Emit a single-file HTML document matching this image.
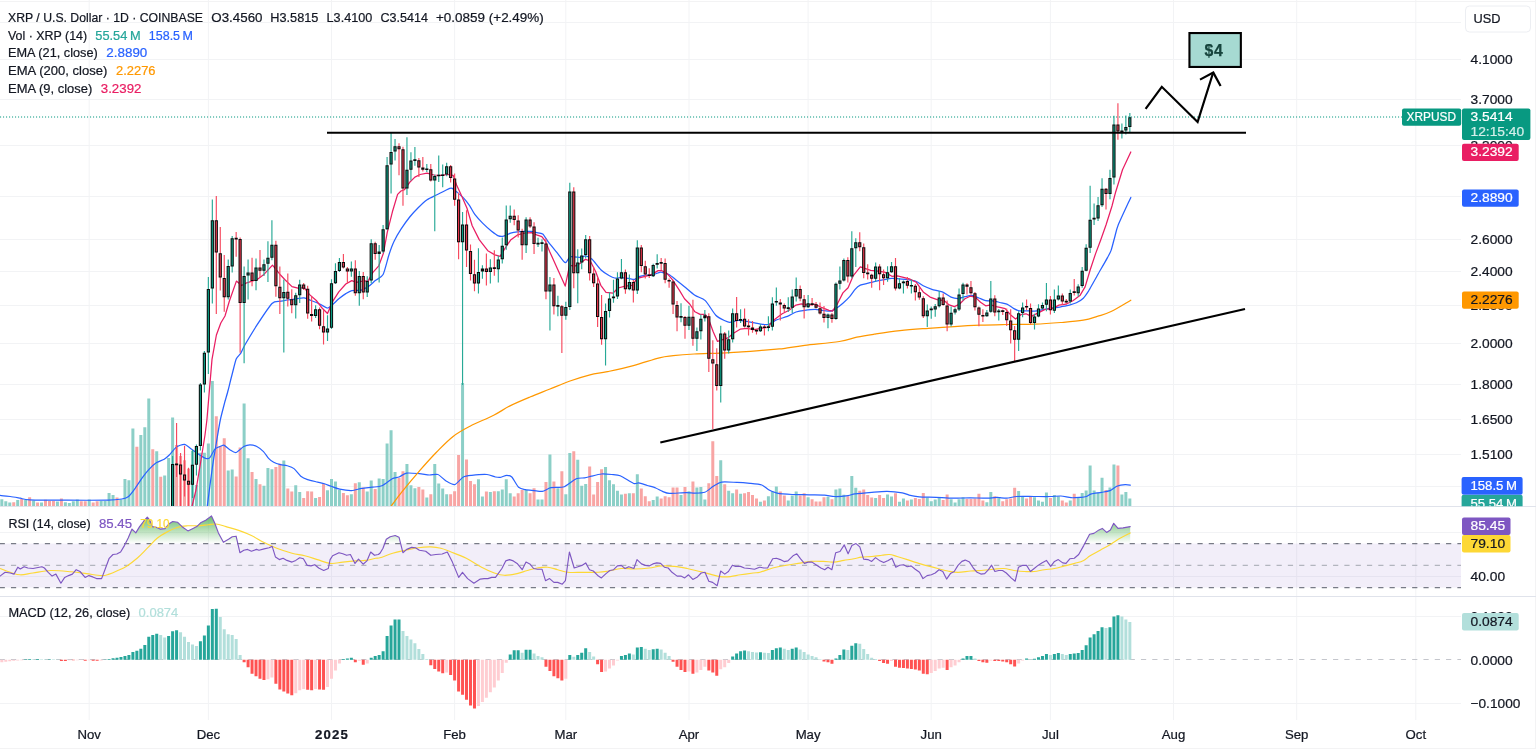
<!DOCTYPE html>
<html><head><meta charset="utf-8"><title>XRPUSD chart</title>
<style>
html,body{margin:0;padding:0;background:#fff;}
body{width:1536px;height:749px;overflow:hidden;font-family:"Liberation Sans",sans-serif;}
svg{display:block;font-family:"Liberation Sans",sans-serif;will-change:transform;}
</style></head>
<body>
<svg width="1536" height="749" viewBox="0 0 1536 749">
<rect width="1536" height="749" fill="#fff"/>
<path d="M89.2 0V720 M208.4 0V720 M331.5 0V720 M454.6 0V720 M565.8 0V720 M689.0 0V720 M808.1 0V720 M931.2 0V720 M1050.4 0V720 M1173.5 0V720 M1296.7 0V720 M1415.8 0V720 M0 22.5H1461 M0 59.5H1461 M0 99.5H1461 M0 145.5H1461 M0 196.5H1461 M0 239.5H1461 M0 271.5H1461 M0 305.5H1461 M0 343.5H1461 M0 384.5H1461 M0 419.5H1461 M0 454.5H1461 M0 486.5H1461 M0 532.5H1461 M0 576.5H1461 M0 616.5H1461 M0 703.5H1461" stroke="#f2f3f5" stroke-width="1" fill="none"/>
<defs><clipPath id="mp"><rect x="0" y="0" width="1461" height="506"/></clipPath><linearGradient id="rg" gradientUnits="userSpaceOnUse" x1="0" y1="510.5" x2="0" y2="543.6"><stop offset="0" stop-color="#4caf50" stop-opacity="1"/><stop offset="1" stop-color="#4caf50" stop-opacity="0"/></linearGradient><clipPath id="r70"><rect x="0" y="507" width="1461" height="36.6"/></clipPath></defs>
<g clip-path="url(#mp)">
<path d="M0.32 506v-6.8h3v6.8zM4.29 506v-4.7h3v4.7zM8.26 506v-3.4h3v3.4zM16.21 506v-6.0h3v6.0zM24.15 506v-6.0h3v6.0zM32.10 506v-5.6h3v5.6zM40.04 506v-3.4h3v3.4zM55.93 506v-4.6h3v4.6zM63.87 506v-3.7h3v3.7zM67.84 506v-3.0h3v3.0zM71.81 506v-4.7h3v4.7zM75.79 506v-6.4h3v6.4zM87.70 506v-6.4h3v6.4zM99.62 506v-5.0h3v5.0zM103.59 506v-5.0h3v5.0zM107.56 506v-13.0h3v13.0zM111.53 506v-11.0h3v11.0zM119.48 506v-6.4h3v6.4zM123.45 506v-27.0h3v27.0zM127.42 506v-25.7h3v25.7zM131.39 506v-77.4h3v77.4zM139.34 506v-71.0h3v71.0zM143.31 506v-78.7h3v78.7zM147.28 506v-107.5h3v107.5zM155.22 506v-54.7h3v54.7zM163.17 506v-30.5h3v30.5zM167.14 506v-48.0h3v48.0zM171.11 506v-88.4h3v88.4zM190.97 506v-55.0h3v55.0zM194.94 506v-21.0h3v21.0zM198.91 506v-53.3h3v53.3zM202.89 506v-53.3h3v53.3zM206.86 506v-62.6h3v62.6zM210.83 506v-125.0h3v125.0zM226.72 506v-35.5h3v35.5zM230.69 506v-36.4h3v36.4zM242.61 506v-102.4h3v102.4zM246.58 506v-47.7h3v47.7zM254.52 506v-27.0h3v27.0zM262.47 506v-20.3h3v20.3zM266.44 506v-38.0h3v38.0zM270.41 506v-36.7h3v36.7zM282.32 506v-45.4h3v45.4zM294.24 506v-20.8h3v20.8zM298.21 506v-14.0h3v14.0zM314.10 506v-8.0h3v8.0zM326.02 506v-15.7h3v15.7zM329.99 506v-27.0h3v27.0zM333.96 506v-24.5h3v24.5zM337.93 506v-16.0h3v16.0zM349.85 506v-11.8h3v11.8zM357.79 506v-23.7h3v23.7zM365.73 506v-14.4h3v14.4zM369.71 506v-25.4h3v25.4zM377.65 506v-27.6h3v27.6zM381.62 506v-27.0h3v27.0zM385.59 506v-62.6h3v62.6zM389.57 506v-75.7h3v75.7zM393.54 506v-33.9h3v33.9zM405.45 506v-42.0h3v42.0zM409.43 506v-20.8h3v20.8zM413.40 506v-17.8h3v17.8zM425.31 506v-8.5h3v8.5zM433.26 506v-42.0h3v42.0zM437.23 506v-22.5h3v22.5zM441.20 506v-17.4h3v17.4zM445.17 506v-11.8h3v11.8zM461.06 506v-123.0h3v123.0zM476.95 506v-26.7h3v26.7zM480.92 506v-9.6h3v9.6zM488.86 506v-13.9h3v13.9zM496.81 506v-14.7h3v14.7zM500.78 506v-16.6h3v16.6zM504.75 506v-26.7h3v26.7zM508.72 506v-12.7h3v12.7zM524.61 506v-16.0h3v16.0zM536.53 506v-6.4h3v6.4zM540.50 506v-6.4h3v6.4zM548.44 506v-51.6h3v51.6zM556.39 506v-17.8h3v17.8zM564.33 506v-11.8h3v11.8zM568.30 506v-53.0h3v53.0zM576.25 506v-46.2h3v46.2zM580.22 506v-20.3h3v20.3zM584.19 506v-22.0h3v22.0zM604.05 506v-38.9h3v38.9zM608.02 506v-25.7h3v25.7zM611.99 506v-21.7h3v21.7zM615.96 506v-15.2h3v15.2zM619.94 506v-11.5h3v11.5zM627.88 506v-12.7h3v12.7zM635.82 506v-31.8h3v31.8zM651.71 506v-5.9h3v5.9zM655.68 506v-9.6h3v9.6zM679.51 506v-11.0h3v11.0zM687.46 506v-14.7h3v14.7zM695.40 506v-18.6h3v18.6zM699.37 506v-19.0h3v19.0zM703.35 506v-6.4h3v6.4zM719.23 506v-45.7h3v45.7zM727.18 506v-15.2h3v15.2zM731.15 506v-12.7h3v12.7zM739.09 506v-12.2h3v12.2zM758.95 506v-4.2h3v4.2zM766.90 506v-9.8h3v9.8zM770.87 506v-14.4h3v14.4zM774.84 506v-19.5h3v19.5zM786.76 506v-5.4h3v5.4zM790.73 506v-10.5h3v10.5zM794.70 506v-14.4h3v14.4zM806.62 506v-8.8h3v8.8zM826.48 506v-9.3h3v9.3zM834.42 506v-16.6h3v16.6zM838.39 506v-17.4h3v17.4zM842.36 506v-11.3h3v11.3zM850.31 506v-30.0h3v30.0zM854.28 506v-18.3h3v18.3zM874.14 506v-8.0h3v8.0zM886.05 506v-11.5h3v11.5zM890.03 506v-9.6h3v9.6zM897.97 506v-4.2h3v4.2zM901.94 506v-7.6h3v7.6zM909.89 506v-6.4h3v6.4zM925.77 506v-8.5h3v8.5zM929.74 506v-4.7h3v4.7zM933.72 506v-6.4h3v6.4zM937.69 506v-8.0h3v8.0zM949.60 506v-6.8h3v6.8zM953.58 506v-3.4h3v3.4zM957.55 506v-6.8h3v6.8zM961.52 506v-8.8h3v8.8zM985.35 506v-3.7h3v3.7zM989.32 506v-13.9h3v13.9zM997.27 506v-8.0h3v8.0zM1017.13 506v-14.9h3v14.9zM1021.10 506v-9.3h3v9.3zM1033.01 506v-8.8h3v8.8zM1036.99 506v-5.6h3v5.6zM1040.96 506v-4.2h3v4.2zM1044.93 506v-13.5h3v13.5zM1052.87 506v-11.0h3v11.0zM1056.85 506v-9.8h3v9.8zM1068.76 506v-5.4h3v5.4zM1076.70 506v-8.5h3v8.5zM1080.68 506v-13.0h3v13.0zM1084.65 506v-15.6h3v15.6zM1088.62 506v-40.6h3v40.6zM1092.59 506v-15.6h3v15.6zM1096.56 506v-13.5h3v13.5zM1100.54 506v-28.3h3v28.3zM1108.48 506v-18.6h3v18.6zM1112.45 506v-41.5h3v41.5zM1120.40 506v-11.5h3v11.5zM1124.37 506v-14.0h3v14.0zM1128.34 506v-7.6h3v7.6z" fill="#8ccfc7"/>
<path d="M12.24 506v-3.7h3v3.7zM20.18 506v-7.0h3v7.0zM28.12 506v-8.8h3v8.8zM36.07 506v-3.4h3v3.4zM44.01 506v-6.3h3v6.3zM47.98 506v-5.0h3v5.0zM51.95 506v-5.0h3v5.0zM59.90 506v-7.6h3v7.6zM79.76 506v-4.7h3v4.7zM83.73 506v-4.7h3v4.7zM91.67 506v-3.4h3v3.4zM95.65 506v-4.7h3v4.7zM115.51 506v-8.5h3v8.5zM135.36 506v-59.2h3v59.2zM151.25 506v-56.7h3v56.7zM159.20 506v-29.3h3v29.3zM175.08 506v-61.0h3v61.0zM179.06 506v-50.0h3v50.0zM183.03 506v-45.7h3v45.7zM187.00 506v-37.2h3v37.2zM214.80 506v-89.7h3v89.7zM218.77 506v-60.0h3v60.0zM222.75 506v-67.7h3v67.7zM234.66 506v-29.6h3v29.6zM238.63 506v-58.4h3v58.4zM250.55 506v-33.9h3v33.9zM258.49 506v-21.7h3v21.7zM274.38 506v-39.0h3v39.0zM278.35 506v-42.3h3v42.3zM286.30 506v-17.4h3v17.4zM290.27 506v-14.4h3v14.4zM302.18 506v-8.0h3v8.0zM306.16 506v-14.7h3v14.7zM310.13 506v-14.4h3v14.4zM318.07 506v-9.0h3v9.0zM322.04 506v-22.0h3v22.0zM341.90 506v-13.0h3v13.0zM345.88 506v-10.7h3v10.7zM353.82 506v-22.8h3v22.8zM361.76 506v-18.6h3v18.6zM373.68 506v-17.0h3v17.0zM397.51 506v-28.0h3v28.0zM401.48 506v-34.7h3v34.7zM417.37 506v-19.0h3v19.0zM421.34 506v-16.4h3v16.4zM429.29 506v-11.8h3v11.8zM449.14 506v-11.8h3v11.8zM453.12 506v-14.7h3v14.7zM457.09 506v-51.0h3v51.0zM465.03 506v-46.5h3v46.5zM469.00 506v-24.9h3v24.9zM472.98 506v-21.7h3v21.7zM484.89 506v-14.4h3v14.4zM492.84 506v-14.7h3v14.7zM512.70 506v-9.6h3v9.6zM516.67 506v-12.7h3v12.7zM520.64 506v-16.0h3v16.0zM528.58 506v-12.7h3v12.7zM532.55 506v-17.8h3v17.8zM544.47 506v-24.0h3v24.0zM552.41 506v-24.5h3v24.5zM560.36 506v-34.7h3v34.7zM572.27 506v-54.7h3v54.7zM588.16 506v-39.4h3v39.4zM592.13 506v-11.5h3v11.5zM596.11 506v-24.0h3v24.0zM600.08 506v-36.7h3v36.7zM623.91 506v-12.2h3v12.2zM631.85 506v-12.7h3v12.7zM639.80 506v-17.4h3v17.4zM643.77 506v-9.8h3v9.8zM647.74 506v-4.7h3v4.7zM659.66 506v-7.6h3v7.6zM663.63 506v-9.8h3v9.8zM667.60 506v-8.8h3v8.8zM671.57 506v-18.6h3v18.6zM675.54 506v-18.6h3v18.6zM683.49 506v-19.0h3v19.0zM691.43 506v-24.5h3v24.5zM707.32 506v-22.8h3v22.8zM711.29 506v-64.7h3v64.7zM715.26 506v-30.0h3v30.0zM723.21 506v-21.7h3v21.7zM735.12 506v-16.4h3v16.4zM743.07 506v-12.7h3v12.7zM747.04 506v-13.9h3v13.9zM751.01 506v-11.0h3v11.0zM754.98 506v-7.6h3v7.6zM762.92 506v-5.4h3v5.4zM778.81 506v-14.4h3v14.4zM782.78 506v-10.5h3v10.5zM798.67 506v-10.5h3v10.5zM802.64 506v-12.7h3v12.7zM810.59 506v-6.8h3v6.8zM814.56 506v-4.6h3v4.6zM818.53 506v-4.6h3v4.6zM822.50 506v-8.8h3v8.8zM830.45 506v-6.8h3v6.8zM846.33 506v-9.8h3v9.8zM858.25 506v-15.2h3v15.2zM862.22 506v-16.6h3v16.6zM866.19 506v-11.0h3v11.0zM870.17 506v-8.5h3v8.5zM878.11 506v-11.0h3v11.0zM882.08 506v-8.0h3v8.0zM894.00 506v-12.7h3v12.7zM905.91 506v-5.4h3v5.4zM913.86 506v-8.0h3v8.0zM917.83 506v-7.0h3v7.0zM921.80 506v-13.0h3v13.0zM941.66 506v-5.9h3v5.9zM945.63 506v-11.5h3v11.5zM965.49 506v-7.0h3v7.0zM969.46 506v-7.0h3v7.0zM973.44 506v-7.6h3v7.6zM977.41 506v-12.2h3v12.2zM981.38 506v-5.4h3v5.4zM993.30 506v-9.8h3v9.8zM1001.24 506v-4.7h3v4.7zM1005.21 506v-6.8h3v6.8zM1009.18 506v-7.6h3v7.6zM1013.15 506v-18.3h3v18.3zM1025.07 506v-7.6h3v7.6zM1029.04 506v-9.3h3v9.3zM1048.90 506v-8.0h3v8.0zM1060.82 506v-5.4h3v5.4zM1064.79 506v-3.4h3v3.4zM1072.73 506v-12.2h3v12.2zM1104.51 506v-16.0h3v16.0zM1116.42 506v-40.6h3v40.6z" fill="#f8a5a4"/>
<path d="M0.0 495.3C1.2 495.4 7.8 496.2 10.2 496.5C12.6 496.8 18.0 497.8 20.3 498.2C22.6 498.6 23.9 499.7 29.6 499.9C35.3 500.1 58.3 500.2 67.7 500.2C77.1 500.2 101.8 500.3 108.3 500.2C114.8 500.1 119.5 499.4 121.9 499.0C124.3 498.6 127.0 497.8 128.6 496.5C130.2 495.2 133.8 490.2 135.4 488.0C137.0 485.8 140.6 480.1 142.2 477.9C143.8 475.7 147.3 471.2 149.0 469.4C150.7 467.6 154.8 463.8 156.6 462.6C158.4 461.4 162.7 460.1 164.2 459.2C165.7 458.3 167.9 456.4 169.3 455.0C170.7 453.6 174.2 448.7 176.0 447.4C177.8 446.1 182.7 444.1 184.5 444.3C186.3 444.5 189.5 447.8 191.3 449.1C193.1 450.4 198.0 453.9 199.7 455.0C201.4 456.1 204.5 458.1 205.7 458.4C206.9 458.7 208.8 458.7 209.9 457.6C211.0 456.5 213.6 450.5 215.0 449.1C216.4 447.7 220.6 446.1 221.7 445.7C222.8 445.3 223.3 444.9 224.3 445.4C225.3 445.9 228.8 449.0 230.2 449.9C231.6 450.8 234.5 452.9 236.1 452.5C237.7 452.1 242.1 447.4 243.8 446.5C245.5 445.6 248.4 444.9 250.0 444.9C251.6 444.9 255.2 445.7 256.8 446.5C258.4 447.3 262.1 450.2 263.5 451.6C264.9 453.0 267.4 457.1 268.6 458.4C269.8 459.7 272.3 461.5 273.7 462.3C275.1 463.1 278.9 464.3 280.5 464.7C282.1 465.1 285.6 465.2 287.2 465.7C288.8 466.2 292.4 467.3 294.0 468.6C295.6 469.9 299.2 474.9 300.8 476.2C302.4 477.5 305.6 478.9 307.6 479.6C309.6 480.3 315.7 481.6 317.7 482.1C319.7 482.6 322.9 483.3 324.5 483.8C326.1 484.3 329.4 485.7 331.2 486.3C333.0 486.9 337.3 488.7 339.7 489.2C342.1 489.7 349.0 490.7 351.6 490.6C354.2 490.5 359.3 488.8 361.7 488.4C364.1 488.0 369.5 487.5 371.9 487.2C374.3 486.9 379.6 486.8 382.0 485.8C384.4 484.8 390.2 479.8 392.2 478.7C394.2 477.6 397.3 477.7 399.0 477.0C400.7 476.3 404.2 473.5 406.6 473.1C409.0 472.7 416.6 473.4 419.3 473.6C422.0 473.8 427.2 474.9 429.4 475.0C431.6 475.1 435.9 473.8 437.9 474.5C439.9 475.2 444.4 480.0 446.4 481.2C448.4 482.4 452.8 485.1 454.8 484.6C456.8 484.1 461.3 478.1 463.3 477.0C465.3 475.9 468.9 475.6 471.7 475.3C474.5 475.0 484.2 474.3 487.0 474.5C489.8 474.7 493.8 476.7 495.4 477.0C497.0 477.3 498.6 477.6 500.0 477.4C501.4 477.2 505.4 475.3 506.8 475.3C508.2 475.3 510.4 475.6 511.8 477.0C513.2 478.4 517.0 485.7 518.6 487.2C520.2 488.7 523.6 489.3 525.4 489.7C527.2 490.1 531.9 490.4 533.9 490.6C535.9 490.8 540.3 491.7 542.3 491.4C544.3 491.1 548.2 488.3 550.8 487.7C553.4 487.1 561.3 487.8 564.3 486.7C567.3 485.6 573.8 479.8 576.2 478.7C578.6 477.6 582.8 478.2 584.6 477.9C586.4 477.6 589.4 476.7 591.4 476.2C593.4 475.7 599.2 474.2 601.6 474.0C604.0 473.8 609.5 474.3 611.7 474.5C613.9 474.7 617.6 474.6 620.2 475.7C622.8 476.8 631.5 482.6 633.7 483.5C635.9 484.4 637.2 482.7 638.8 482.9C640.4 483.1 645.3 484.9 647.3 485.5C649.3 486.1 653.9 487.3 655.7 488.0C657.5 488.7 660.9 490.8 662.5 491.4C664.1 492.0 666.5 493.3 669.3 493.4C672.1 493.5 683.2 492.6 686.2 492.6C689.2 492.6 692.5 493.1 694.7 493.1C696.9 493.1 702.6 493.1 704.8 492.3C707.0 491.5 711.3 487.5 713.3 486.3C715.3 485.1 718.9 482.6 721.7 482.1C724.5 481.6 733.6 482.3 737.0 482.4C740.4 482.5 747.0 483.0 750.0 483.3C753.0 483.6 759.6 484.2 761.8 485.0C764.0 485.8 766.8 488.7 768.6 489.7C770.4 490.7 774.3 492.5 777.1 493.1C779.9 493.7 788.4 494.3 792.3 494.5C796.2 494.7 805.3 494.7 809.2 494.8C813.1 494.9 821.5 494.9 824.5 495.1C827.5 495.3 831.8 496.4 834.6 496.5C837.4 496.6 845.8 495.9 848.2 495.6C850.6 495.3 852.1 494.3 854.9 493.9C857.7 493.5 868.0 492.6 871.9 492.3C875.8 492.0 883.5 491.3 887.1 491.4C890.7 491.5 899.7 492.4 902.3 492.8C904.9 493.2 907.1 494.6 909.1 495.1C911.1 495.6 916.0 496.5 919.3 496.8C922.6 497.1 932.1 497.1 936.2 497.3C940.3 497.5 949.0 498.1 953.1 498.2C957.2 498.3 966.0 497.8 970.1 497.8C974.2 497.8 983.8 498.3 987.0 498.2C990.2 498.1 995.5 497.4 997.1 497.3C998.7 497.2 998.8 497.6 1000.0 497.7C1001.2 497.8 1004.8 498.3 1006.8 498.2C1008.8 498.1 1013.6 496.7 1016.9 496.5C1020.2 496.3 1029.8 496.5 1033.9 496.5C1038.0 496.5 1047.6 496.6 1050.8 496.5C1054.0 496.4 1058.5 495.9 1060.9 496.0C1063.3 496.1 1068.7 497.5 1071.1 497.7C1073.5 497.9 1079.4 497.4 1081.2 497.3C1083.0 497.2 1085.1 496.9 1086.3 496.5C1087.5 496.1 1089.6 494.4 1091.4 493.9C1093.2 493.4 1099.4 492.7 1101.6 492.3C1103.8 491.9 1108.2 491.3 1110.0 490.6C1111.8 489.9 1115.0 487.0 1116.8 486.3C1118.6 485.6 1123.7 484.7 1125.3 484.6C1126.9 484.5 1129.7 485.0 1130.3 485.1" fill="none" stroke="#2962ff" stroke-width="1.2" stroke-linejoin="round" stroke-linecap="round"/>
<path d="M391.3 505.8C393.3 503.2 397.3 497.6 402.3 491.4C407.3 485.2 413.2 478.1 419.3 471.1C425.4 464.1 430.1 458.7 436.2 452.5C442.3 446.3 447.0 441.1 453.1 436.4C459.2 431.7 462.7 430.0 470.0 426.2C477.3 422.4 486.5 418.9 493.7 415.2C500.9 411.5 503.5 409.2 510.0 405.9C516.5 402.6 522.8 400.0 530.0 397.0C537.2 394.0 542.8 391.9 550.0 389.0C557.2 386.1 562.8 383.6 570.0 381.0C577.2 378.4 583.3 376.5 590.0 374.8C596.7 373.1 599.6 373.4 607.4 371.7C615.2 370.0 624.0 368.1 633.4 365.6C642.8 363.1 652.2 359.6 659.4 357.8C666.6 356.0 667.0 356.4 673.3 355.7C679.6 355.0 685.8 354.5 694.2 354.0C702.6 353.5 711.4 353.5 720.0 353.1C728.6 352.7 734.7 352.2 741.8 351.8C748.9 351.4 753.0 351.1 759.2 350.6C765.4 350.1 771.9 349.6 776.5 349.2C781.1 348.8 779.9 349.0 785.0 348.3C790.1 347.6 794.9 346.5 804.7 345.3C814.5 344.1 830.0 343.0 839.4 341.5C848.8 340.0 850.5 338.5 856.8 337.2C863.1 335.9 866.4 335.4 874.2 334.2C882.0 333.0 890.2 331.7 900.0 330.6C909.8 329.5 918.6 329.0 928.4 328.3C938.2 327.6 945.0 327.2 954.4 326.6C963.8 326.0 971.1 325.6 980.5 325.2C989.9 324.8 996.7 324.7 1006.5 324.5C1016.3 324.3 1024.9 324.6 1034.7 324.2C1044.5 323.8 1052.1 323.2 1060.8 322.5C1069.5 321.8 1076.7 321.3 1083.3 320.2C1089.9 319.1 1092.2 318.0 1097.2 316.4C1102.2 314.8 1105.1 314.4 1111.1 311.5C1117.1 308.6 1127.3 302.2 1130.8 300.2" fill="none" stroke="#ff9800" stroke-width="1.25" stroke-linejoin="round" stroke-linecap="round"/>
<path d="M207.3 506.0C207.9 501.4 211.2 475.6 212.3 468.0C213.4 460.4 215.3 448.8 216.3 443.0C217.3 437.2 219.3 424.7 220.3 420.0C221.3 415.3 223.4 407.6 224.3 404.0C225.2 400.4 227.3 393.6 228.2 390.0C229.1 386.4 231.2 377.7 232.2 374.0C233.2 370.3 235.2 361.5 236.2 359.0C237.2 356.5 239.6 355.1 240.7 353.4C241.8 351.7 243.0 348.1 245.0 344.7C247.0 341.3 254.0 329.6 257.2 324.7C260.4 319.8 269.3 306.3 272.0 303.5C274.7 300.7 278.2 301.7 279.8 301.3C281.4 300.9 283.1 300.8 285.0 300.5C286.9 300.2 293.1 299.1 295.4 298.8C297.7 298.5 302.2 297.7 304.1 297.9C306.0 298.1 309.1 299.8 311.0 300.5C312.9 301.2 317.7 303.1 319.7 304.0C321.7 304.9 325.9 307.9 327.5 308.0C329.1 308.1 331.3 305.6 332.7 304.5C334.1 303.4 337.2 300.1 338.8 298.8C340.4 297.5 344.2 294.6 345.8 293.6C347.4 292.6 349.9 291.0 351.8 290.6C353.7 290.2 359.4 290.6 361.4 290.1C363.4 289.6 366.6 287.7 368.3 286.6C370.0 285.5 373.5 282.1 375.3 280.6C377.1 279.1 381.5 277.6 383.1 274.5C384.7 271.4 387.6 259.0 388.9 255.0C390.2 251.0 392.6 244.4 394.1 241.3C395.6 238.2 399.1 232.1 401.0 229.2C402.9 226.3 407.6 219.6 409.7 217.0C411.8 214.4 416.3 209.6 418.4 207.5C420.5 205.4 425.0 201.2 427.1 199.7C429.2 198.2 433.7 196.3 435.8 195.3C437.9 194.3 442.7 191.8 444.4 191.0C446.1 190.2 448.8 188.7 449.7 188.4C450.6 188.1 451.5 188.0 452.3 188.4C453.1 188.8 455.3 190.7 456.6 191.8C457.9 192.9 461.9 196.2 463.5 197.9C465.1 199.6 468.2 203.7 469.6 205.7C471.0 207.7 473.2 212.3 474.8 214.4C476.4 216.5 480.6 221.1 482.6 223.1C484.6 225.1 489.4 229.4 491.3 230.9C493.2 232.4 496.9 235.2 498.4 235.8C499.9 236.4 502.1 236.4 503.6 236.1C505.1 235.8 508.9 233.7 510.6 233.2C512.3 232.7 515.8 232.1 517.5 231.9C519.2 231.7 522.7 231.5 524.4 231.4C526.1 231.3 529.9 231.3 531.4 231.4C532.9 231.5 535.2 232.3 536.6 232.6C538.0 232.9 541.2 232.8 542.7 234.0C544.2 235.2 547.0 240.4 548.8 242.7C550.6 245.0 555.4 250.7 557.4 253.1C559.4 255.5 563.6 262.3 565.2 262.7C566.8 263.1 568.5 257.3 570.4 256.7C572.3 256.1 579.0 257.7 580.8 257.6C582.6 257.5 584.1 255.6 585.5 255.8C586.9 256.0 590.3 257.6 592.1 259.3C593.9 261.0 598.7 267.7 600.8 269.7C602.9 271.7 607.7 274.8 609.4 275.8C611.1 276.8 613.2 277.8 614.7 278.0C616.2 278.2 619.9 277.5 621.6 277.5C623.3 277.5 626.9 278.2 628.5 278.4C630.1 278.6 633.3 279.5 634.6 279.3C635.9 279.1 637.6 277.2 639.0 276.7C640.4 276.2 644.2 275.5 645.9 275.3C647.6 275.1 651.1 275.3 652.8 274.9C654.5 274.5 658.7 272.6 659.8 272.3C660.9 272.0 660.8 272.1 661.9 272.4C663.0 272.7 667.2 273.6 668.9 274.5C670.6 275.4 673.9 278.2 675.8 279.7C677.7 281.2 682.2 284.8 684.5 286.7C686.8 288.6 692.4 293.6 694.9 295.3C697.4 297.0 702.8 298.2 705.3 300.6C707.8 303.0 713.5 312.9 715.8 315.3C718.1 317.7 722.7 319.7 724.4 320.5C726.1 321.3 728.0 322.3 729.7 322.3C731.4 322.3 736.2 320.6 738.3 320.5C740.4 320.4 744.9 321.1 747.0 321.4C749.1 321.7 753.6 322.7 755.7 323.1C757.8 323.5 762.7 324.4 764.4 324.5C766.1 324.6 768.1 324.6 769.6 324.0C771.1 323.4 774.8 320.7 776.9 319.8C779.0 318.9 785.1 317.3 787.4 316.4C789.7 315.5 793.9 312.7 796.0 312.0C798.1 311.3 802.4 310.6 804.7 310.3C807.0 310.0 813.0 309.4 815.1 309.4C817.2 309.4 820.2 310.1 822.1 310.3C824.0 310.5 829.1 311.3 830.8 311.1C832.5 310.9 834.5 309.4 836.0 308.5C837.5 307.6 841.2 304.8 842.9 303.3C844.6 301.8 848.4 298.1 849.9 296.4C851.4 294.7 853.9 290.8 855.1 289.4C856.3 288.0 858.8 285.8 860.3 285.1C861.8 284.4 865.5 283.8 867.2 283.4C868.9 283.0 872.3 282.0 874.2 281.6C876.1 281.2 880.7 280.3 882.8 279.9C884.9 279.5 890.0 278.4 891.9 278.3C893.8 278.2 897.0 278.7 898.9 278.9C900.8 279.1 905.5 279.4 907.6 279.7C909.7 280.0 914.4 280.8 916.3 281.5C918.2 282.2 921.3 284.9 923.2 285.8C925.1 286.7 929.6 288.6 931.9 289.3C934.2 290.0 940.0 291.0 942.3 291.9C944.6 292.8 949.1 296.3 951.0 297.1C952.9 297.9 956.2 298.5 957.9 298.5C959.6 298.5 963.2 297.1 964.9 296.7C966.6 296.3 970.1 295.1 971.8 295.3C973.5 295.5 977.1 297.4 978.8 298.0C980.5 298.6 984.0 300.3 985.7 300.6C987.4 300.9 990.9 300.7 992.6 300.9C994.3 301.1 998.3 302.1 1000.0 302.5C1001.7 302.9 1005.2 303.5 1006.9 304.2C1008.6 304.9 1012.4 307.8 1013.9 308.6C1015.4 309.4 1017.6 310.5 1019.1 310.8C1020.6 311.1 1024.1 310.8 1026.0 310.8C1027.9 310.8 1032.6 311.4 1034.7 311.2C1036.8 311.0 1041.3 309.8 1043.4 309.4C1045.5 309.0 1050.0 308.4 1052.1 308.1C1054.2 307.8 1058.7 307.2 1060.8 306.8C1062.9 306.4 1067.5 305.6 1069.4 305.1C1071.3 304.6 1074.7 303.6 1076.4 302.8C1078.1 302.0 1081.8 299.6 1083.3 298.2C1084.8 296.8 1087.2 293.2 1088.5 291.2C1089.8 289.2 1092.3 284.3 1093.8 281.7C1095.3 279.1 1099.0 272.4 1100.7 269.5C1102.4 266.6 1106.4 259.7 1107.6 257.4C1108.8 255.1 1110.3 252.7 1111.1 250.4C1111.9 248.1 1113.6 241.0 1114.5 238.0C1115.4 235.0 1116.2 229.9 1118.2 225.0C1120.2 220.1 1129.3 200.7 1130.8 197.4" fill="none" stroke="#2962ff" stroke-width="1.25" stroke-linejoin="round" stroke-linecap="round"/>
<polyline points="192.1,506.0 196.0,490.0 201.0,460.0 205.0,435.0 206.9,420.0 212.0,359.4 216.4,335.0 220.8,323.0 225.0,316.0 229.4,301.0 236.4,281.1 241.6,285.5 246.8,282.8 257.2,279.4 264.2,274.2 272.5,265.1 279.8,274.2 285.0,279.7 292.0,286.6 298.9,288.4 304.1,287.5 309.3,294.4 316.3,300.5 322.3,308.3 327.5,313.5 332.7,301.4 338.8,291.8 345.8,284.0 351.8,280.6 356.2,282.3 361.4,281.4 368.3,280.6 372.7,272.7 378.8,265.8 383.5,253.0 387.2,232.6 392.4,211.8 397.6,194.4 401.0,191.0 404.5,189.6 409.7,182.3 414.9,177.1 420.1,174.5 427.1,173.1 434.0,175.0 441.0,175.3 447.9,174.5 453.1,175.3 456.6,184.9 461.8,196.2 467.0,208.3 472.2,225.7 479.2,239.6 487.8,250.7 494.9,254.9 500.1,256.3 505.3,247.9 510.6,240.1 517.5,234.9 524.4,233.2 531.4,232.6 536.6,234.9 541.8,236.6 545.3,241.0 549.6,251.4 557.4,268.8 565.2,286.1 569.6,265.3 574.8,266.1 580.0,263.5 585.5,259.3 590.3,261.0 595.6,271.5 600.8,285.3 606.0,292.3 612.9,293.2 618.1,288.0 625.1,286.2 632.0,285.3 637.2,278.4 644.2,276.7 651.1,274.9 658.1,270.6 661.9,270.7 667.2,273.6 672.4,279.7 679.3,290.1 684.5,298.8 689.7,304.0 694.9,311.8 700.1,314.4 705.3,314.4 708.8,319.7 713.2,331.8 717.5,341.4 722.7,339.6 727.9,337.9 733.1,333.5 740.1,329.2 747.0,328.3 754.0,329.7 760.9,328.3 767.8,327.5 770.0,324.2 775.2,319.0 782.2,313.8 789.1,310.3 796.0,305.1 801.3,303.9 808.2,305.1 815.1,304.2 822.1,307.7 829.0,310.3 832.5,311.1 837.7,303.3 842.9,292.9 848.1,287.7 853.3,275.6 860.3,266.9 865.5,268.6 870.7,270.3 877.6,271.2 884.6,272.1 891.9,276.3 897.2,275.9 902.4,277.1 909.3,278.9 916.3,282.3 923.2,291.9 930.1,297.1 937.1,299.7 944.0,300.6 949.2,304.9 954.4,306.6 959.7,304.0 964.9,298.8 970.1,296.2 975.3,297.1 980.5,302.3 985.7,305.8 990.9,304.9 996.1,306.6 1000.0,307.4 1005.2,308.6 1010.4,314.7 1015.6,319.0 1020.8,314.7 1026.0,313.8 1031.3,316.4 1038.2,312.9 1045.1,309.4 1052.1,308.6 1059.0,305.1 1066.0,304.2 1072.9,300.8 1079.9,295.6 1085.1,286.9 1090.3,269.5 1095.5,253.9 1100.7,240.0 1106.0,225.0 1112.0,206.0 1115.6,192.2 1122.5,169.7 1130.8,152.0" fill="none" stroke="#e91e63" stroke-width="1.25" stroke-linejoin="round" stroke-linecap="round" />
<path d="M172.61 456.0V520.0M192.47 450.0V498.0M196.44 444.4V475.4M200.41 383.0V450.5M204.39 351.0V392.4M208.36 277.0V374.0M212.33 199.5V303.5M228.22 259.4V299.5M232.19 236.0V272.4M244.11 266.4V363.3M248.08 259.4V299.5M256.02 258.5V290.3M263.97 259.4V276.0M267.94 241.2V282.0M271.91 220.3V260.3M283.82 279.4V352.5M295.74 292.7V318.4M299.71 279.7V303.1M315.60 305.2V317.9M327.52 315.3V341.0M331.49 279.2V329.0M335.46 263.2V284.0M339.43 258.0V272.0M351.35 261.5V276.7M359.29 271.0V305.7M367.23 276.2V297.0M371.21 239.2V283.2M379.15 245.0V282.6M383.12 225.0V253.0M387.09 157.1V230.0M391.07 132.8V193.6M395.04 138.9V160.6M406.95 137.2V195.0M410.93 152.3V180.6M414.90 147.0V165.8M426.81 164.0V171.9M434.76 174.5V231.3M438.73 155.4V182.0M442.70 164.6V187.2M446.67 162.8V176.2M462.56 212.0V385.0M478.45 248.3V293.6M482.42 265.3V278.8M490.36 259.2V283.5M498.31 255.7V282.6M502.28 237.5V263.5M506.25 205.4V249.7M510.22 205.4V222.7M526.11 217.2V253.1M538.03 237.8V247.0M542.00 239.2V251.4M549.94 277.0V330.5M557.89 295.8V316.3M565.83 301.8V319.7M569.80 182.8V310.0M577.75 249.2V303.3M581.72 248.6V269.2M585.69 235.0V258.4M605.55 303.6V365.6M609.52 292.3V317.5M613.49 279.8V302.7M617.46 272.3V298.9M621.44 259.0V279.3M629.38 274.6V290.2M637.32 240.2V294.0M653.21 263.7V277.0M657.18 254.3V268.6M681.01 303.2V322.3M688.96 305.8V330.0M696.90 327.5V350.9M700.87 314.4V339.6M704.85 310.1V321.4M720.73 325.7V402.5M728.68 330.4V353.5M732.65 308.4V342.6M740.59 309.2V323.1M760.45 324.3V332.0M768.40 316.2V331.3M772.37 297.2V330.4M776.34 287.4V305.8M788.26 297.3V312.0M792.23 289.4V312.9M796.20 277.6V301.6M808.12 295.0V308.0M827.98 313.4V328.2M835.92 282.5V319.8M839.89 266.5V289.4M843.86 258.5V281.6M851.81 231.3V278.2M855.78 238.2V266.9M875.64 262.5V281.6M887.55 266.3V281.8M891.53 262.0V272.8M899.47 278.1V289.3M903.44 280.6V293.6M911.39 279.4V293.6M927.27 304.4V327.0M931.24 306.6V318.8M935.22 304.0V316.7M939.19 291.0V307.5M951.10 306.6V326.6M955.08 307.5V314.4M959.05 288.4V311.0M963.02 282.7V300.6M986.85 310.1V316.7M990.82 281.1V312.7M998.77 308.9V320.5M1018.63 311.2V351.1M1022.60 302.5V317.3M1034.51 313.8V329.4M1038.49 304.2V317.3M1042.46 302.5V309.4M1046.43 283.0V311.2M1054.37 289.5V312.9M1058.35 285.5V300.4M1070.26 289.5V303.4M1078.20 284.3V296.4M1082.18 266.9V287.7M1086.15 244.3V271.3M1090.12 185.8V253.0M1094.09 203.5V225.0M1098.06 197.0V220.9M1102.04 178.3V207.0M1109.98 169.7V199.2M1113.95 115.8V184.4M1121.90 123.6V138.4M1125.87 115.5V134.6M1129.84 112.9V132.3" stroke="#27a996" stroke-width="1.15" fill="none"/>
<path d="M176.58 423.0V477.0M180.56 453.0V506.0M184.53 445.8V496.6M188.50 467.8V506.0M216.30 196.0V314.0M220.27 227.0V290.6M224.25 255.0V311.7M236.16 232.0V256.8M240.13 237.5V352.8M252.05 257.7V286.3M259.99 249.9V277.6M275.88 240.8V296.7M279.85 266.4V314.0M287.80 273.6V306.6M291.77 289.2V313.2M303.68 283.0V290.0M307.66 285.8V318.8M311.63 297.0V321.4M319.57 307.5V329.2M323.54 310.0V344.4M343.40 254.0V268.4M347.38 267.0V283.2M355.32 260.2V295.8M363.26 271.9V299.3M375.18 241.8V259.7M399.01 143.2V175.3M402.98 146.7V205.7M418.87 158.0V177.1M422.84 157.1V171.5M430.79 164.0V181.5M450.64 165.0V182.6M454.62 173.6V205.7M458.59 192.7V259.2M466.53 210.2V267.0M470.50 244.4V280.6M474.48 259.7V291.3M486.39 253.5V285.6M494.34 250.2V275.7M514.20 209.4V225.3M518.17 215.3V237.5M522.14 228.8V259.7M530.08 217.2V228.0M534.05 222.2V254.0M545.97 238.4V299.2M553.91 278.0V314.5M561.86 305.0V353.0M573.77 187.2V288.3M589.66 235.9V280.5M593.63 267.0V287.0M597.61 277.5V327.0M601.58 294.9V344.8M625.41 269.4V293.7M633.35 279.8V302.4M641.30 245.0V272.3M645.27 260.7V278.4M649.24 268.3V278.0M661.16 258.0V270.0M665.13 258.4V283.2M669.10 278.5V287.7M673.07 279.7V314.1M677.04 300.9V331.3M684.99 316.0V338.8M692.93 299.7V345.7M708.82 313.2V372.0M712.79 340.3V429.0M716.76 348.2V390.4M724.71 332.0V358.7M736.62 297.1V327.5M744.57 308.4V327.5M748.54 319.3V335.6M752.51 321.0V332.7M756.48 329.0V334.4M764.42 325.0V335.6M780.31 299.0V320.4M784.28 303.5V312.0M800.17 285.6V301.2M804.14 295.0V318.6M812.09 298.1V306.0M816.06 302.1V308.5M820.03 302.5V314.6M824.00 305.9V322.4M831.95 312.9V322.8M847.83 257.3V282.5M859.75 232.2V251.3M863.72 243.4V278.2M867.69 264.3V279.5M871.67 273.8V287.7M879.61 264.3V290.3M883.58 269.5V285.1M895.50 258.1V290.4M907.41 277.1V288.4M915.36 284.0V300.6M919.33 286.7V299.7M923.30 296.2V317.9M943.16 293.6V305.8M947.13 300.6V331.3M966.99 283.2V294.5M970.96 281.1V294.5M974.94 291.9V310.6M978.91 306.6V326.3M982.88 309.2V321.9M994.80 295.3V316.2M1002.74 309.4V315.0M1006.71 308.5V326.0M1010.68 309.3V343.4M1014.65 326.0V361.4M1026.57 299.5V310.3M1030.54 303.4V324.2M1050.40 296.0V314.6M1062.32 293.5V305.1M1066.29 299.0V304.6M1074.23 279.0V295.5M1106.01 187.9V209.6M1117.92 103.3V139.8" stroke="#f6495e" stroke-width="1.15" fill="none"/>
<path d="M171.01 464.0h3.2V520.0h-3.2zM174.98 463.6h3.2V465.2h-3.2zM178.96 464.4h3.2V474.6h-3.2zM182.93 474.6h3.2V480.5h-3.2zM186.90 480.8h3.2V484.7h-3.2zM190.87 464.7h3.2V484.7h-3.2zM194.84 446.0h3.2V464.7h-3.2zM198.81 384.6h3.2V446.0h-3.2zM202.79 352.8h3.2V384.6h-3.2zM206.76 289.0h3.2V352.5h-3.2zM210.73 220.3h3.2V288.6h-3.2zM214.70 220.3h3.2V252.5h-3.2zM218.67 253.3h3.2V277.6h-3.2zM222.65 278.0h3.2V297.3h-3.2zM226.62 266.0h3.2V297.3h-3.2zM230.59 238.2h3.2V266.4h-3.2zM234.56 237.8h3.2V239.4h-3.2zM238.53 239.0h3.2V303.0h-3.2zM242.51 276.0h3.2V303.0h-3.2zM246.48 272.4h3.2V275.6h-3.2zM250.45 272.4h3.2V281.0h-3.2zM254.42 267.6h3.2V281.0h-3.2zM258.39 267.6h3.2V270.7h-3.2zM262.37 264.3h3.2V270.7h-3.2zM266.34 257.7h3.2V263.8h-3.2zM270.31 244.7h3.2V257.7h-3.2zM274.28 244.7h3.2V286.3h-3.2zM278.25 286.7h3.2V298.3h-3.2zM282.22 292.0h3.2V298.3h-3.2zM286.20 291.8h3.2V298.8h-3.2zM290.17 299.3h3.2V305.2h-3.2zM294.14 295.3h3.2V305.2h-3.2zM298.11 284.5h3.2V295.3h-3.2zM302.08 284.5h3.2V288.7h-3.2zM306.06 288.7h3.2V313.5h-3.2zM310.03 314.0h3.2V316.0h-3.2zM314.00 309.2h3.2V316.0h-3.2zM317.97 309.2h3.2V325.7h-3.2zM321.94 326.2h3.2V332.6h-3.2zM325.92 328.6h3.2V332.6h-3.2zM329.89 283.2h3.2V327.8h-3.2zM333.86 271.0h3.2V283.2h-3.2zM337.83 262.0h3.2V271.0h-3.2zM341.80 262.0h3.2V267.5h-3.2zM345.78 268.4h3.2V271.5h-3.2zM349.75 268.4h3.2V271.5h-3.2zM353.72 268.4h3.2V293.2h-3.2zM357.69 275.9h3.2V293.2h-3.2zM361.66 275.9h3.2V292.4h-3.2zM365.63 280.9h3.2V292.4h-3.2zM369.61 243.2h3.2V280.6h-3.2zM373.58 243.2h3.2V254.0h-3.2zM377.55 251.4h3.2V254.0h-3.2zM381.52 229.3h3.2V251.4h-3.2zM385.49 165.3h3.2V229.2h-3.2zM389.47 151.9h3.2V164.6h-3.2zM393.44 146.2h3.2V151.6h-3.2zM397.41 146.2h3.2V149.3h-3.2zM401.38 149.3h3.2V188.4h-3.2zM405.35 169.8h3.2V188.4h-3.2zM409.33 160.6h3.2V169.8h-3.2zM413.30 159.3h3.2V160.9h-3.2zM417.27 160.2h3.2V167.5h-3.2zM421.24 167.5h3.2V169.8h-3.2zM425.21 168.5h3.2V170.1h-3.2zM429.19 169.3h3.2V180.6h-3.2zM433.16 175.9h3.2V180.6h-3.2zM437.13 174.7h3.2V176.3h-3.2zM441.10 174.4h3.2V176.0h-3.2zM445.07 166.3h3.2V174.5h-3.2zM449.04 166.3h3.2V178.0h-3.2zM453.02 178.5h3.2V199.7h-3.2zM456.99 199.5h3.2V242.3h-3.2zM460.96 224.5h3.2V242.3h-3.2zM464.93 224.5h3.2V250.5h-3.2zM468.90 251.0h3.2V274.0h-3.2zM472.88 274.3h3.2V283.5h-3.2zM476.85 271.9h3.2V283.5h-3.2zM480.82 268.4h3.2V271.4h-3.2zM484.79 268.4h3.2V271.9h-3.2zM488.76 267.5h3.2V271.9h-3.2zM492.74 267.3h3.2V268.9h-3.2zM496.71 259.5h3.2V269.3h-3.2zM500.68 245.8h3.2V259.2h-3.2zM504.65 219.6h3.2V245.3h-3.2zM508.62 215.8h3.2V219.3h-3.2zM512.60 215.8h3.2V220.1h-3.2zM516.57 220.5h3.2V230.6h-3.2zM520.54 230.9h3.2V245.3h-3.2zM524.51 219.6h3.2V245.3h-3.2zM528.48 219.6h3.2V226.6h-3.2zM532.45 226.6h3.2V243.9h-3.2zM536.43 242.8h3.2V244.4h-3.2zM540.40 242.2h3.2V243.9h-3.2zM544.37 243.4h3.2V291.4h-3.2zM548.34 284.6h3.2V291.4h-3.2zM552.31 284.6h3.2V306.2h-3.2zM556.29 305.1h3.2V306.7h-3.2zM560.26 306.2h3.2V315.7h-3.2zM564.23 307.0h3.2V315.7h-3.2zM568.20 191.5h3.2V307.0h-3.2zM572.17 191.5h3.2V273.3h-3.2zM576.15 262.5h3.2V273.3h-3.2zM580.12 255.6h3.2V262.4h-3.2zM584.09 239.3h3.2V255.0h-3.2zM588.06 239.3h3.2V273.2h-3.2zM592.03 273.5h3.2V283.3h-3.2zM596.01 283.6h3.2V317.0h-3.2zM599.98 317.0h3.2V339.2h-3.2zM603.95 311.0h3.2V339.2h-3.2zM607.92 298.4h3.2V311.0h-3.2zM611.89 296.6h3.2V298.2h-3.2zM615.86 278.4h3.2V296.6h-3.2zM619.84 272.3h3.2V278.4h-3.2zM623.81 272.3h3.2V289.3h-3.2zM627.78 281.9h3.2V289.3h-3.2zM631.75 281.9h3.2V290.6h-3.2zM635.72 247.5h3.2V290.6h-3.2zM639.70 247.5h3.2V265.9h-3.2zM643.67 266.3h3.2V274.6h-3.2zM647.64 274.4h3.2V276.1h-3.2zM651.61 264.9h3.2V276.3h-3.2zM655.58 263.1h3.2V264.8h-3.2zM659.56 262.1h3.2V263.8h-3.2zM663.53 263.1h3.2V279.7h-3.2zM667.50 279.9h3.2V281.6h-3.2zM671.47 281.5h3.2V304.5h-3.2zM675.44 304.9h3.2V317.6h-3.2zM679.41 316.1h3.2V317.7h-3.2zM683.39 317.0h3.2V325.7h-3.2zM687.36 316.7h3.2V325.7h-3.2zM691.33 316.7h3.2V338.8h-3.2zM695.30 331.3h3.2V338.8h-3.2zM699.27 318.8h3.2V331.3h-3.2zM703.25 315.3h3.2V318.3h-3.2zM707.22 316.2h3.2V358.8h-3.2zM711.19 359.3h3.2V363.5h-3.2zM715.16 364.2h3.2V385.9h-3.2zM719.13 333.5h3.2V385.9h-3.2zM723.11 333.5h3.2V350.6h-3.2zM727.08 339.3h3.2V350.6h-3.2zM731.05 313.2h3.2V339.3h-3.2zM735.02 313.2h3.2V320.9h-3.2zM738.99 319.1h3.2V320.7h-3.2zM742.97 318.8h3.2V326.6h-3.2zM746.94 325.6h3.2V327.2h-3.2zM750.91 327.5h3.2V330.1h-3.2zM754.88 329.8h3.2V331.4h-3.2zM758.85 326.6h3.2V331.3h-3.2zM762.82 326.5h3.2V328.1h-3.2zM766.80 326.3h3.2V327.9h-3.2zM770.77 303.4h3.2V326.7h-3.2zM774.74 300.9h3.2V302.6h-3.2zM778.71 302.4h3.2V304.5h-3.2zM782.68 305.0h3.2V308.5h-3.2zM786.66 307.3h3.2V308.9h-3.2zM790.63 296.4h3.2V307.7h-3.2zM794.60 288.9h3.2V296.4h-3.2zM798.57 288.9h3.2V298.6h-3.2zM802.54 299.3h3.2V307.3h-3.2zM806.52 303.3h3.2V307.3h-3.2zM810.49 303.3h3.2V305.0h-3.2zM814.46 304.2h3.2V307.7h-3.2zM818.43 308.2h3.2V313.4h-3.2zM822.40 313.8h3.2V318.1h-3.2zM826.38 314.6h3.2V318.1h-3.2zM830.35 314.6h3.2V319.0h-3.2zM834.32 283.7h3.2V319.0h-3.2zM838.29 280.4h3.2V283.7h-3.2zM842.26 259.9h3.2V280.4h-3.2zM846.23 259.9h3.2V276.4h-3.2zM850.21 248.3h3.2V276.4h-3.2zM854.18 242.2h3.2V248.3h-3.2zM858.15 242.2h3.2V247.3h-3.2zM862.12 247.3h3.2V273.0h-3.2zM866.09 272.6h3.2V274.2h-3.2zM870.07 274.7h3.2V278.7h-3.2zM874.04 266.5h3.2V278.7h-3.2zM878.01 266.5h3.2V274.3h-3.2zM881.98 274.3h3.2V278.2h-3.2zM885.95 272.3h3.2V278.3h-3.2zM889.93 266.3h3.2V272.2h-3.2zM893.90 266.3h3.2V288.5h-3.2zM897.87 283.3h3.2V288.5h-3.2zM901.84 281.6h3.2V283.2h-3.2zM905.81 281.1h3.2V285.8h-3.2zM909.79 284.9h3.2V286.6h-3.2zM913.76 285.8h3.2V292.2h-3.2zM917.73 292.2h3.2V297.6h-3.2zM921.70 298.3h3.2V316.2h-3.2zM925.67 310.6h3.2V316.2h-3.2zM929.64 308.6h3.2V310.2h-3.2zM933.62 306.3h3.2V309.6h-3.2zM937.59 297.6h3.2V306.3h-3.2zM941.56 297.6h3.2V304.9h-3.2zM945.53 305.4h3.2V324.5h-3.2zM949.50 312.7h3.2V324.5h-3.2zM953.48 309.2h3.2V312.4h-3.2zM957.45 294.5h3.2V309.6h-3.2zM961.42 284.4h3.2V294.0h-3.2zM965.39 284.4h3.2V286.7h-3.2zM969.36 287.2h3.2V293.3h-3.2zM973.34 293.3h3.2V307.2h-3.2zM977.31 307.5h3.2V314.8h-3.2zM981.28 314.9h3.2V316.6h-3.2zM985.25 312.4h3.2V316.2h-3.2zM989.22 298.5h3.2V311.8h-3.2zM993.20 298.5h3.2V312.4h-3.2zM997.17 310.6h3.2V312.2h-3.2zM1001.14 310.3h3.2V311.9h-3.2zM1005.11 312.0h3.2V320.2h-3.2zM1009.08 320.4h3.2V330.3h-3.2zM1013.05 330.3h3.2V339.7h-3.2zM1017.03 313.3h3.2V339.8h-3.2zM1021.00 307.4h3.2V313.0h-3.2zM1024.97 305.9h3.2V307.6h-3.2zM1028.94 308.0h3.2V323.0h-3.2zM1032.91 316.4h3.2V323.0h-3.2zM1036.89 308.6h3.2V316.4h-3.2zM1040.86 305.1h3.2V308.6h-3.2zM1044.83 299.4h3.2V304.8h-3.2zM1048.80 299.4h3.2V310.3h-3.2zM1052.77 299.5h3.2V310.8h-3.2zM1056.75 295.5h3.2V299.5h-3.2zM1060.72 295.5h3.2V301.6h-3.2zM1064.69 300.8h3.2V302.4h-3.2zM1068.66 293.0h3.2V301.6h-3.2zM1072.63 291.3h3.2V292.9h-3.2zM1076.60 286.4h3.2V293.3h-3.2zM1080.58 270.7h3.2V286.0h-3.2zM1084.55 247.8h3.2V270.7h-3.2zM1088.52 219.7h3.2V247.8h-3.2zM1092.49 217.8h3.2V219.4h-3.2zM1096.46 205.2h3.2V218.6h-3.2zM1100.44 188.8h3.2V205.2h-3.2zM1104.41 188.8h3.2V194.0h-3.2zM1108.38 178.0h3.2V194.0h-3.2zM1112.35 124.5h3.2V177.5h-3.2zM1116.32 124.5h3.2V131.5h-3.2zM1120.30 130.6h3.2V132.2h-3.2zM1124.27 127.1h3.2V130.6h-3.2zM1128.24 117.2h3.2V127.1h-3.2z" fill="#0b0b0b"/>
<path d="M172.01 465.0h1.2V519.0h-1.2zM191.87 465.7h1.2V483.7h-1.2zM195.84 447.0h1.2V463.7h-1.2zM199.81 385.6h1.2V445.0h-1.2zM203.79 353.8h1.2V383.6h-1.2zM207.76 290.0h1.2V351.5h-1.2zM211.73 221.3h1.2V287.6h-1.2zM227.62 267.0h1.2V296.3h-1.2zM231.59 239.2h1.2V265.4h-1.2zM243.51 277.0h1.2V302.0h-1.2zM247.48 273.4h1.2V274.6h-1.2zM255.42 268.6h1.2V280.0h-1.2zM263.37 265.3h1.2V269.7h-1.2zM267.34 258.7h1.2V262.8h-1.2zM271.31 245.7h1.2V256.7h-1.2zM283.22 293.0h1.2V297.3h-1.2zM295.14 296.3h1.2V304.2h-1.2zM299.11 285.5h1.2V294.3h-1.2zM315.00 310.2h1.2V315.0h-1.2zM326.92 329.6h1.2V331.6h-1.2zM330.89 284.2h1.2V326.8h-1.2zM334.86 272.0h1.2V282.2h-1.2zM338.83 263.0h1.2V270.0h-1.2zM350.75 269.4h1.2V270.5h-1.2zM358.69 276.9h1.2V292.2h-1.2zM366.63 281.9h1.2V291.4h-1.2zM370.61 244.2h1.2V279.6h-1.2zM382.52 230.3h1.2V250.4h-1.2zM386.49 166.3h1.2V228.2h-1.2zM390.47 152.9h1.2V163.6h-1.2zM394.44 147.2h1.2V150.6h-1.2zM406.35 170.8h1.2V187.4h-1.2zM410.33 161.6h1.2V168.8h-1.2zM434.16 176.9h1.2V179.6h-1.2zM446.07 167.3h1.2V173.5h-1.2zM461.96 225.5h1.2V241.3h-1.2zM477.85 272.9h1.2V282.5h-1.2zM489.76 268.5h1.2V270.9h-1.2zM497.71 260.5h1.2V268.3h-1.2zM501.68 246.8h1.2V258.2h-1.2zM505.65 220.6h1.2V244.3h-1.2zM509.62 216.8h1.2V218.3h-1.2zM525.51 220.6h1.2V244.3h-1.2zM549.34 285.6h1.2V290.4h-1.2zM565.23 308.0h1.2V314.7h-1.2zM569.20 192.5h1.2V306.0h-1.2zM577.15 263.5h1.2V272.3h-1.2zM581.12 256.6h1.2V261.4h-1.2zM585.09 240.3h1.2V254.0h-1.2zM604.95 312.0h1.2V338.2h-1.2zM608.92 299.4h1.2V310.0h-1.2zM616.86 279.4h1.2V295.6h-1.2zM620.84 273.3h1.2V277.4h-1.2zM628.78 282.9h1.2V288.3h-1.2zM636.72 248.5h1.2V289.6h-1.2zM652.61 265.9h1.2V275.3h-1.2zM688.36 317.7h1.2V324.7h-1.2zM696.30 332.3h1.2V337.8h-1.2zM700.27 319.8h1.2V330.3h-1.2zM720.13 334.5h1.2V384.9h-1.2zM728.08 340.3h1.2V349.6h-1.2zM732.05 314.2h1.2V338.3h-1.2zM759.85 327.6h1.2V330.3h-1.2zM771.77 304.4h1.2V325.7h-1.2zM791.63 297.4h1.2V306.7h-1.2zM795.60 289.9h1.2V295.4h-1.2zM807.52 304.3h1.2V306.3h-1.2zM827.38 315.6h1.2V317.1h-1.2zM835.32 284.7h1.2V318.0h-1.2zM839.29 281.4h1.2V282.7h-1.2zM843.26 260.9h1.2V279.4h-1.2zM851.21 249.3h1.2V275.4h-1.2zM855.18 243.2h1.2V247.3h-1.2zM875.04 267.5h1.2V277.7h-1.2zM886.95 273.3h1.2V277.3h-1.2zM890.93 267.3h1.2V271.2h-1.2zM898.87 284.3h1.2V287.5h-1.2zM926.67 311.6h1.2V315.2h-1.2zM934.62 307.3h1.2V308.6h-1.2zM938.59 298.6h1.2V305.3h-1.2zM950.50 313.7h1.2V323.5h-1.2zM954.48 310.2h1.2V311.4h-1.2zM958.45 295.5h1.2V308.6h-1.2zM962.42 285.4h1.2V293.0h-1.2zM986.25 313.4h1.2V315.2h-1.2zM990.22 299.5h1.2V310.8h-1.2zM1018.03 314.3h1.2V338.8h-1.2zM1022.00 308.4h1.2V312.0h-1.2zM1033.91 317.4h1.2V322.0h-1.2zM1037.89 309.6h1.2V315.4h-1.2zM1041.86 306.1h1.2V307.6h-1.2zM1045.83 300.4h1.2V303.8h-1.2zM1053.77 300.5h1.2V309.8h-1.2zM1057.75 296.5h1.2V298.5h-1.2zM1069.66 294.0h1.2V300.6h-1.2zM1077.60 287.4h1.2V292.3h-1.2zM1081.58 271.7h1.2V285.0h-1.2zM1085.55 248.8h1.2V269.7h-1.2zM1089.52 220.7h1.2V246.8h-1.2zM1097.46 206.2h1.2V217.6h-1.2zM1101.44 189.8h1.2V204.2h-1.2zM1109.38 179.0h1.2V193.0h-1.2zM1113.35 125.5h1.2V176.5h-1.2zM1125.27 128.1h1.2V129.6h-1.2zM1129.24 118.2h1.2V126.1h-1.2z" fill="#0a9a82"/>
<path d="M179.96 465.4h1.2V473.6h-1.2zM183.93 475.6h1.2V479.5h-1.2zM187.90 481.8h1.2V483.7h-1.2zM215.70 221.3h1.2V251.5h-1.2zM219.67 254.3h1.2V276.6h-1.2zM223.65 279.0h1.2V296.3h-1.2zM239.53 240.0h1.2V302.0h-1.2zM251.45 273.4h1.2V280.0h-1.2zM259.39 268.6h1.2V269.7h-1.2zM275.28 245.7h1.2V285.3h-1.2zM279.25 287.7h1.2V297.3h-1.2zM287.20 292.8h1.2V297.8h-1.2zM291.17 300.3h1.2V304.2h-1.2zM303.08 285.5h1.2V287.7h-1.2zM307.06 289.7h1.2V312.5h-1.2zM318.97 310.2h1.2V324.7h-1.2zM322.94 327.2h1.2V331.6h-1.2zM342.80 263.0h1.2V266.5h-1.2zM346.78 269.4h1.2V270.5h-1.2zM354.72 269.4h1.2V292.2h-1.2zM362.66 276.9h1.2V291.4h-1.2zM374.58 244.2h1.2V253.0h-1.2zM398.41 147.2h1.2V148.3h-1.2zM402.38 150.3h1.2V187.4h-1.2zM418.27 161.2h1.2V166.5h-1.2zM430.19 170.3h1.2V179.6h-1.2zM450.04 167.3h1.2V177.0h-1.2zM454.02 179.5h1.2V198.7h-1.2zM457.99 200.5h1.2V241.3h-1.2zM465.93 225.5h1.2V249.5h-1.2zM469.90 252.0h1.2V273.0h-1.2zM473.88 275.3h1.2V282.5h-1.2zM485.79 269.4h1.2V270.9h-1.2zM513.60 216.8h1.2V219.1h-1.2zM517.57 221.5h1.2V229.6h-1.2zM521.54 231.9h1.2V244.3h-1.2zM529.48 220.6h1.2V225.6h-1.2zM533.45 227.6h1.2V242.9h-1.2zM545.37 244.4h1.2V290.4h-1.2zM553.31 285.6h1.2V305.2h-1.2zM561.26 307.2h1.2V314.7h-1.2zM573.17 192.5h1.2V272.3h-1.2zM589.06 240.3h1.2V272.2h-1.2zM593.03 274.5h1.2V282.3h-1.2zM597.01 284.6h1.2V316.0h-1.2zM600.98 318.0h1.2V338.2h-1.2zM624.81 273.3h1.2V288.3h-1.2zM632.75 282.9h1.2V289.6h-1.2zM640.70 248.5h1.2V264.9h-1.2zM644.67 267.3h1.2V273.6h-1.2zM664.53 264.1h1.2V278.7h-1.2zM672.47 282.5h1.2V303.5h-1.2zM676.44 305.9h1.2V316.6h-1.2zM684.39 318.0h1.2V324.7h-1.2zM692.33 317.7h1.2V337.8h-1.2zM708.22 317.2h1.2V357.8h-1.2zM712.19 360.3h1.2V362.5h-1.2zM716.16 365.2h1.2V384.9h-1.2zM724.11 334.5h1.2V349.6h-1.2zM736.02 314.2h1.2V319.9h-1.2zM743.97 319.8h1.2V325.6h-1.2zM783.68 306.0h1.2V307.5h-1.2zM799.57 289.9h1.2V297.6h-1.2zM803.54 300.3h1.2V306.3h-1.2zM815.46 305.2h1.2V306.7h-1.2zM819.43 309.2h1.2V312.4h-1.2zM823.40 314.8h1.2V317.1h-1.2zM831.35 315.6h1.2V318.0h-1.2zM847.23 260.9h1.2V275.4h-1.2zM859.15 243.2h1.2V246.3h-1.2zM863.12 248.3h1.2V272.0h-1.2zM871.07 275.7h1.2V277.7h-1.2zM879.01 267.5h1.2V273.3h-1.2zM882.98 275.3h1.2V277.2h-1.2zM894.90 267.3h1.2V287.5h-1.2zM906.81 282.1h1.2V284.8h-1.2zM914.76 286.8h1.2V291.2h-1.2zM918.73 293.2h1.2V296.6h-1.2zM922.70 299.3h1.2V315.2h-1.2zM942.56 298.6h1.2V303.9h-1.2zM946.53 306.4h1.2V323.5h-1.2zM970.36 288.2h1.2V292.3h-1.2zM974.34 294.3h1.2V306.2h-1.2zM978.31 308.5h1.2V313.8h-1.2zM994.20 299.5h1.2V311.4h-1.2zM1006.11 313.0h1.2V319.2h-1.2zM1010.08 321.4h1.2V329.3h-1.2zM1014.05 331.3h1.2V338.7h-1.2zM1029.94 309.0h1.2V322.0h-1.2zM1049.80 300.4h1.2V309.3h-1.2zM1061.72 296.5h1.2V300.6h-1.2zM1105.41 189.8h1.2V193.0h-1.2zM1117.32 125.5h1.2V130.5h-1.2z" fill="#e2354a"/>
</g>
<path d="M0 117H1402" stroke="#089981" stroke-width="1" stroke-dasharray="1.1 1.9" fill="none"/>
<path d="M327 132.8H1246" stroke="#000" stroke-width="2" fill="none"/>
<path d="M660.3 442.5L1245 309" stroke="#000" stroke-width="2.2" fill="none"/>
<path d="M1145.6 108.8L1161.8 86.8L1197.6 122L1213.2 72.5" stroke="#000" stroke-width="2.2" fill="none" stroke-linejoin="miter"/>
<path d="M1200 79.6L1213.3 72.6L1220.6 86" stroke="#000" stroke-width="2.2" fill="none" stroke-linejoin="miter"/>
<rect x="1189.45" y="33.05" width="51.4" height="33.9" fill="#a6dad2" stroke="#000" stroke-width="2.1"/>
<text x="1214.1" y="55.9" text-anchor="middle" font-size="15.8" font-weight="700" fill="#16443c" stroke="#16443c" stroke-width="0.25" letter-spacing="0.9">$4</text>
<path d="M0 1.5H1536M1535.5 0V749M0 748.5H1536" stroke="#f3f3f4" stroke-width="1" fill="none"/>
<path d="M0 506.5H1536M0 596.5H1536" stroke="#e0e3eb" stroke-width="1" fill="none"/>
<rect x="0" y="543.6" width="1461" height="43.9" fill="#7e57c2" fill-opacity="0.1"/>
<path d="M0 543.6H1461M0 587.5H1461" stroke="#787b86" stroke-width="1.25" stroke-dasharray="5.2 6.1" stroke-dashoffset="0.34" fill="none"/>
<path d="M0 565.4H1461" stroke="#b2b5be" stroke-width="1.1" stroke-dasharray="5.2 6.1" stroke-dashoffset="0.34" fill="none"/>
<path d="M0.0 576.1 L5.1 572.3 L10.2 573.0 L14.0 574.1 L17.8 567.2 L20.3 569.0 L24.1 566.7 L27.9 568.0 L33.0 568.5 L36.8 567.7 L41.9 566.7 L44.4 568.0 L48.2 572.3 L52.1 576.1 L55.9 574.1 L60.9 583.2 L64.7 577.4 L68.6 575.6 L72.4 574.1 L76.2 569.7 L80.0 571.5 L85.1 577.4 L88.9 575.6 L92.7 576.9 L96.5 578.6 L101.6 578.6 L105.4 568.5 L109.2 558.3 L113.0 554.5 L116.8 554.0 L120.6 552.0 L124.4 545.6 L128.2 538.0 L132.0 529.1 L135.8 532.9 L139.6 526.6 L143.5 521.5 L147.3 517.2 L149.8 520.2 L152.3 526.6 L156.2 527.3 L160.0 529.1 L165.0 528.6 L168.8 524.0 L172.7 521.5 L177.7 522.3 L182.8 527.3 L187.9 530.9 L193.0 528.4 L196.8 526.6 L200.6 522.8 L205.7 520.2 L211.5 515.9 L214.6 522.8 L218.4 532.9 L223.4 542.3 L228.5 539.3 L232.3 536.7 L236.1 536.2 L239.9 552.7 L243.8 550.2 L247.6 549.4 L251.4 551.2 L256.4 549.4 L259.0 550.2 L264.1 548.9 L269.1 547.7 L272.2 546.4 L275.5 557.1 L279.3 559.6 L283.1 558.3 L286.9 560.4 L292.0 562.1 L295.8 560.4 L299.6 557.8 L303.4 558.8 L307.2 565.4 L311.0 565.9 L314.8 564.7 L318.7 568.0 L323.7 570.5 L328.3 568.5 L330.1 559.6 L332.6 555.8 L339.0 552.7 L342.8 553.8 L346.6 555.3 L350.4 554.5 L355.0 563.4 L358.5 559.1 L363.1 564.2 L366.9 560.9 L370.7 552.0 L374.5 555.3 L378.3 554.5 L380.0 553.2 L383.0 548.2 L386.3 539.3 L390.2 536.7 L395.2 535.5 L399.0 537.2 L402.9 552.7 L406.7 549.4 L411.7 547.4 L415.5 547.7 L419.4 550.2 L425.7 551.2 L430.8 555.3 L435.9 554.5 L442.2 554.0 L447.3 552.0 L452.4 562.1 L458.7 577.4 L462.5 572.3 L467.6 578.6 L473.9 583.2 L480.3 579.1 L484.1 578.6 L487.9 578.6 L491.7 577.4 L495.5 577.4 L501.9 568.5 L505.7 560.9 L509.5 559.6 L513.3 560.9 L517.1 563.4 L522.2 569.7 L526.0 562.1 L529.8 563.9 L533.6 568.5 L537.4 569.2 L542.0 569.2 L545.5 580.7 L549.6 578.6 L553.9 582.4 L557.7 582.4 L562.3 584.2 L565.4 580.7 L569.4 552.0 L574.2 568.0 L578.0 566.7 L581.9 565.4 L585.7 562.9 L589.5 569.7 L593.3 571.0 L598.4 576.1 L601.4 577.9 L606.0 573.6 L609.8 570.5 L613.6 569.7 L617.4 565.9 L621.2 565.4 L625.0 568.5 L628.8 566.7 L633.9 568.5 L637.0 559.6 L641.5 563.9 L645.3 565.4 L649.1 565.9 L652.9 563.9 L656.8 562.9 L660.6 563.4 L664.4 567.2 L668.2 568.0 L672.0 572.3 L677.1 576.1 L680.9 576.1 L684.7 577.9 L688.5 574.8 L692.8 579.4 L697.4 576.9 L701.2 573.0 L705.0 572.3 L708.8 581.2 L712.6 582.4 L717.2 585.7 L720.7 571.0 L724.8 574.1 L728.4 571.5 L732.4 565.2 L735.5 566.4 L740.5 566.4 L744.4 568.0 L749.4 568.5 L754.5 569.2 L759.6 567.2 L760.0 567.2 L763.8 568.0 L767.6 568.0 L772.7 558.8 L776.5 558.3 L780.3 559.6 L784.1 561.6 L787.9 560.9 L793.0 555.8 L796.8 553.8 L800.6 558.8 L804.4 563.4 L808.2 562.1 L812.1 562.1 L815.9 564.7 L820.9 568.0 L824.7 569.7 L828.0 567.2 L831.9 569.7 L835.7 552.7 L840.0 551.5 L844.3 544.9 L848.1 553.8 L851.9 545.6 L856.0 543.6 L859.8 546.9 L863.6 559.1 L867.9 559.6 L871.7 561.4 L875.5 557.6 L879.3 560.4 L883.7 562.6 L888.2 560.4 L892.0 558.3 L895.8 567.2 L899.6 565.2 L903.5 564.7 L907.3 566.7 L911.1 565.9 L914.9 569.0 L919.5 572.3 L923.0 578.6 L927.1 575.6 L931.4 574.8 L935.2 573.0 L939.0 569.7 L942.8 571.5 L946.6 579.1 L950.4 573.6 L954.2 571.5 L958.0 565.4 L961.9 561.4 L965.2 560.1 L969.5 562.1 L973.3 568.0 L977.1 572.3 L980.9 574.1 L984.7 573.6 L988.5 569.7 L991.6 565.2 L994.9 571.5 L998.7 570.5 L1002.5 570.5 L1006.3 573.0 L1011.4 578.1 L1015.2 581.2 L1018.5 567.2 L1022.8 565.2 L1026.6 565.4 L1030.4 571.5 L1034.2 568.5 L1038.0 565.4 L1041.8 562.9 L1046.4 560.4 L1050.7 566.4 L1054.5 561.4 L1058.3 559.6 L1062.7 562.9 L1066.0 563.4 L1069.8 558.8 L1074.3 558.3 L1078.7 554.5 L1083.7 545.6 L1089.6 534.2 L1093.9 533.4 L1099.0 529.9 L1102.3 528.4 L1106.6 532.4 L1110.4 529.9 L1113.7 523.3 L1118.0 528.4 L1123.1 527.9 L1130.2 526.6 L1130.2 543.6 L0.0 543.6Z" fill="url(#rg)" clip-path="url(#r70)"/>
<path d="M0.0 568.5C1.8 569.2 6.5 571.2 10.2 572.3C13.9 573.4 16.2 574.7 20.3 574.8C24.4 574.9 27.5 573.8 33.0 573.0C38.5 572.2 43.9 570.7 50.8 570.5C57.7 570.3 64.7 571.2 71.1 571.8C77.5 572.4 80.8 572.9 86.3 573.6C91.8 574.3 97.5 575.5 101.6 575.6C105.7 575.7 106.5 574.9 109.2 574.1C111.9 573.3 113.6 572.5 116.8 571.0C120.0 569.5 123.3 568.2 127.0 565.9C130.7 563.6 133.4 561.5 137.1 558.3C140.8 555.1 143.6 551.9 147.3 548.2C151.0 544.5 153.7 541.0 157.4 538.0C161.1 535.0 163.9 533.6 167.6 531.7C171.3 529.8 174.0 528.4 177.7 527.3C181.4 526.2 184.2 526.1 187.9 525.8C191.6 525.5 194.3 526.0 198.0 525.8C201.7 525.6 205.0 525.1 208.2 524.8C211.4 524.5 212.6 523.7 215.8 524.0C219.0 524.3 221.9 525.4 226.0 526.6C230.1 527.8 234.1 528.8 238.7 530.4C243.3 532.0 246.8 533.3 251.4 535.5C256.0 537.7 259.5 540.3 264.1 542.6C268.7 544.9 271.8 546.3 276.8 548.2C281.8 550.1 287.0 551.8 292.0 553.2C297.0 554.6 300.1 554.6 304.7 555.8C309.3 557.0 312.8 558.2 317.4 559.6C322.0 561.0 325.5 562.9 330.1 563.4C334.7 563.9 338.2 562.6 342.8 562.1C347.4 561.6 351.4 561.2 355.5 560.9C359.6 560.6 361.9 560.9 365.6 560.4C369.3 559.9 373.2 558.8 375.8 558.3C378.4 557.8 377.0 558.7 380.0 557.8C383.0 556.9 388.1 554.6 392.7 553.2C397.3 551.8 400.8 551.2 405.4 550.2C410.0 549.2 413.5 548.3 418.1 547.7C422.7 547.1 426.7 546.8 430.8 546.9C434.9 547.0 437.2 547.3 440.9 548.2C444.6 549.1 446.5 550.2 451.1 552.0C455.7 553.8 460.8 555.6 466.3 558.3C471.8 561.0 476.6 564.6 481.6 567.2C486.6 569.8 490.2 571.5 494.3 573.0C498.4 574.5 500.3 575.2 504.4 575.3C508.5 575.4 513.0 574.5 517.1 573.6C521.2 572.7 523.6 571.5 527.3 570.5C531.0 569.5 533.7 568.6 537.4 568.0C541.1 567.4 543.9 566.9 547.6 567.2C551.3 567.5 554.0 568.8 557.7 569.7C561.4 570.6 563.3 571.8 567.9 572.3C572.5 572.8 577.6 572.3 583.1 572.3C588.6 572.3 593.8 572.5 598.4 572.3C603.0 572.1 604.4 571.7 608.5 571.0C612.6 570.3 616.6 568.9 621.2 568.5C625.8 568.1 628.9 569.1 633.9 569.0C638.9 568.9 644.1 568.6 649.1 568.0C654.1 567.4 657.2 566.2 661.8 565.9C666.4 565.6 669.9 565.9 674.5 566.4C679.1 566.9 682.6 567.6 687.2 568.5C691.8 569.4 695.8 570.5 699.9 571.5C704.0 572.5 706.4 573.2 710.1 574.1C713.8 575.0 716.5 576.1 720.2 576.6C723.9 577.1 726.7 576.9 730.4 576.6C734.1 576.3 736.4 575.4 740.5 574.8C744.6 574.2 749.7 573.5 753.2 573.0C756.7 572.5 756.5 573.2 760.0 572.3C763.5 571.4 768.1 569.2 772.7 568.0C777.3 566.8 780.8 566.2 785.4 565.4C790.0 564.6 793.5 564.1 798.1 563.4C802.7 562.7 806.2 561.8 810.8 561.4C815.4 561.0 819.4 561.3 823.5 561.4C827.6 561.5 829.9 562.3 833.6 562.1C837.3 561.9 840.1 561.0 843.8 560.4C847.5 559.8 850.7 559.4 853.9 558.8C857.1 558.2 858.4 557.5 861.6 557.1C864.8 556.7 868.0 556.8 871.7 556.5C875.4 556.2 878.7 555.7 881.9 555.3C885.1 554.9 886.8 554.3 889.5 554.5C892.2 554.7 893.9 555.6 897.1 556.5C900.3 557.4 903.6 558.4 907.3 559.6C911.0 560.8 913.7 561.8 917.4 562.9C921.1 564.0 923.9 564.9 927.6 565.9C931.3 566.9 934.0 567.6 937.7 568.5C941.4 569.4 944.2 570.3 947.9 571.0C951.6 571.7 953.9 572.3 958.0 572.3C962.1 572.3 966.1 571.4 970.7 571.0C975.3 570.6 979.3 570.6 983.4 570.3C987.5 570.0 989.9 569.5 993.6 569.2C997.3 568.9 1000.1 568.3 1003.8 568.5C1007.5 568.7 1010.2 570.0 1013.9 570.5C1017.6 571.0 1020.4 571.3 1024.1 571.5C1027.8 571.7 1030.5 571.8 1034.2 571.5C1037.9 571.2 1040.7 570.2 1044.4 569.7C1048.1 569.2 1050.8 569.2 1054.5 568.5C1058.2 567.8 1061.0 566.8 1064.7 565.9C1068.4 565.0 1071.4 564.4 1074.8 563.4C1078.2 562.4 1080.9 561.8 1083.7 560.4C1086.5 559.0 1087.1 557.6 1090.1 555.8C1093.1 554.0 1096.5 552.3 1100.2 550.2C1103.9 548.1 1106.7 546.6 1110.4 544.4C1114.1 542.2 1116.9 540.1 1120.5 538.0C1124.1 535.9 1128.5 533.8 1130.2 532.9" fill="none" stroke="#fdd835" stroke-width="1.15" stroke-linejoin="round" stroke-linecap="round"/>
<polyline points="0.0,576.1 5.1,572.3 10.2,573.0 14.0,574.1 17.8,567.2 20.3,569.0 24.1,566.7 27.9,568.0 33.0,568.5 36.8,567.7 41.9,566.7 44.4,568.0 48.2,572.3 52.1,576.1 55.9,574.1 60.9,583.2 64.7,577.4 68.6,575.6 72.4,574.1 76.2,569.7 80.0,571.5 85.1,577.4 88.9,575.6 92.7,576.9 96.5,578.6 101.6,578.6 105.4,568.5 109.2,558.3 113.0,554.5 116.8,554.0 120.6,552.0 124.4,545.6 128.2,538.0 132.0,529.1 135.8,532.9 139.6,526.6 143.5,521.5 147.3,517.2 149.8,520.2 152.3,526.6 156.2,527.3 160.0,529.1 165.0,528.6 168.8,524.0 172.7,521.5 177.7,522.3 182.8,527.3 187.9,530.9 193.0,528.4 196.8,526.6 200.6,522.8 205.7,520.2 211.5,515.9 214.6,522.8 218.4,532.9 223.4,542.3 228.5,539.3 232.3,536.7 236.1,536.2 239.9,552.7 243.8,550.2 247.6,549.4 251.4,551.2 256.4,549.4 259.0,550.2 264.1,548.9 269.1,547.7 272.2,546.4 275.5,557.1 279.3,559.6 283.1,558.3 286.9,560.4 292.0,562.1 295.8,560.4 299.6,557.8 303.4,558.8 307.2,565.4 311.0,565.9 314.8,564.7 318.7,568.0 323.7,570.5 328.3,568.5 330.1,559.6 332.6,555.8 339.0,552.7 342.8,553.8 346.6,555.3 350.4,554.5 355.0,563.4 358.5,559.1 363.1,564.2 366.9,560.9 370.7,552.0 374.5,555.3 378.3,554.5 380.0,553.2 383.0,548.2 386.3,539.3 390.2,536.7 395.2,535.5 399.0,537.2 402.9,552.7 406.7,549.4 411.7,547.4 415.5,547.7 419.4,550.2 425.7,551.2 430.8,555.3 435.9,554.5 442.2,554.0 447.3,552.0 452.4,562.1 458.7,577.4 462.5,572.3 467.6,578.6 473.9,583.2 480.3,579.1 484.1,578.6 487.9,578.6 491.7,577.4 495.5,577.4 501.9,568.5 505.7,560.9 509.5,559.6 513.3,560.9 517.1,563.4 522.2,569.7 526.0,562.1 529.8,563.9 533.6,568.5 537.4,569.2 542.0,569.2 545.5,580.7 549.6,578.6 553.9,582.4 557.7,582.4 562.3,584.2 565.4,580.7 569.4,552.0 574.2,568.0 578.0,566.7 581.9,565.4 585.7,562.9 589.5,569.7 593.3,571.0 598.4,576.1 601.4,577.9 606.0,573.6 609.8,570.5 613.6,569.7 617.4,565.9 621.2,565.4 625.0,568.5 628.8,566.7 633.9,568.5 637.0,559.6 641.5,563.9 645.3,565.4 649.1,565.9 652.9,563.9 656.8,562.9 660.6,563.4 664.4,567.2 668.2,568.0 672.0,572.3 677.1,576.1 680.9,576.1 684.7,577.9 688.5,574.8 692.8,579.4 697.4,576.9 701.2,573.0 705.0,572.3 708.8,581.2 712.6,582.4 717.2,585.7 720.7,571.0 724.8,574.1 728.4,571.5 732.4,565.2 735.5,566.4 740.5,566.4 744.4,568.0 749.4,568.5 754.5,569.2 759.6,567.2 760.0,567.2 763.8,568.0 767.6,568.0 772.7,558.8 776.5,558.3 780.3,559.6 784.1,561.6 787.9,560.9 793.0,555.8 796.8,553.8 800.6,558.8 804.4,563.4 808.2,562.1 812.1,562.1 815.9,564.7 820.9,568.0 824.7,569.7 828.0,567.2 831.9,569.7 835.7,552.7 840.0,551.5 844.3,544.9 848.1,553.8 851.9,545.6 856.0,543.6 859.8,546.9 863.6,559.1 867.9,559.6 871.7,561.4 875.5,557.6 879.3,560.4 883.7,562.6 888.2,560.4 892.0,558.3 895.8,567.2 899.6,565.2 903.5,564.7 907.3,566.7 911.1,565.9 914.9,569.0 919.5,572.3 923.0,578.6 927.1,575.6 931.4,574.8 935.2,573.0 939.0,569.7 942.8,571.5 946.6,579.1 950.4,573.6 954.2,571.5 958.0,565.4 961.9,561.4 965.2,560.1 969.5,562.1 973.3,568.0 977.1,572.3 980.9,574.1 984.7,573.6 988.5,569.7 991.6,565.2 994.9,571.5 998.7,570.5 1002.5,570.5 1006.3,573.0 1011.4,578.1 1015.2,581.2 1018.5,567.2 1022.8,565.2 1026.6,565.4 1030.4,571.5 1034.2,568.5 1038.0,565.4 1041.8,562.9 1046.4,560.4 1050.7,566.4 1054.5,561.4 1058.3,559.6 1062.7,562.9 1066.0,563.4 1069.8,558.8 1074.3,558.3 1078.7,554.5 1083.7,545.6 1089.6,534.2 1093.9,533.4 1099.0,529.9 1102.3,528.4 1106.6,532.4 1110.4,529.9 1113.7,523.3 1118.0,528.4 1123.1,527.9 1130.2,526.6" fill="none" stroke="#7e57c2" stroke-width="1.15" stroke-linejoin="round" stroke-linecap="round" />
<path d="M0 659.5H1461" stroke="#c4c6cc" stroke-width="1" stroke-dasharray="5.2 6.1" stroke-dashoffset="0.34" fill="none"/>
<path d="M24.15 659.7v-0.5h3v0.5zM28.12 659.7v-0.6h3v0.6zM36.07 659.7v-0.6h3v0.6zM47.98 659.7v-0.5h3v0.5zM103.59 659.7v-0.3h3v0.3zM107.56 659.7v-0.8h3v0.8zM111.53 659.7v-1.5h3v1.5zM115.51 659.7v-2.0h3v2.0zM119.48 659.7v-2.8h3v2.8zM123.45 659.7v-3.6h3v3.6zM127.42 659.7v-4.6h3v4.6zM131.39 659.7v-7.6h3v7.6zM135.36 659.7v-8.9h3v8.9zM139.34 659.7v-10.9h3v10.9zM143.31 659.7v-14.7h3v14.7zM147.28 659.7v-22.9h3v22.9zM151.25 659.7v-24.6h3v24.6zM155.22 659.7v-25.9h3v25.9zM167.14 659.7v-23.6h3v23.6zM171.11 659.7v-28.4h3v28.4zM175.08 659.7v-29.5h3v29.5zM198.91 659.7v-18.5h3v18.5zM202.89 659.7v-24.1h3v24.1zM206.86 659.7v-34.3h3v34.3zM210.83 659.7v-50.8h3v50.8zM214.80 659.7v-51.0h3v51.0zM341.90 659.7v-0.8h3v0.8zM345.88 659.7v-1.3h3v1.3zM349.85 659.7v-2.0h3v2.0zM369.71 659.7v-2.0h3v2.0zM373.68 659.7v-3.6h3v3.6zM377.65 659.7v-4.6h3v4.6zM381.62 659.7v-8.4h3v8.4zM385.59 659.7v-23.6h3v23.6zM389.57 659.7v-34.3h3v34.3zM393.54 659.7v-40.1h3v40.1zM397.51 659.7v-40.2h3v40.2zM508.72 659.7v-5.1h3v5.1zM512.70 659.7v-9.4h3v9.4zM516.67 659.7v-9.5h3v9.5zM524.61 659.7v-9.9h3v9.9zM528.58 659.7v-10.0h3v10.0zM568.30 659.7v-4.6h3v4.6zM576.25 659.7v-4.6h3v4.6zM580.22 659.7v-6.9h3v6.9zM584.19 659.7v-11.4h3v11.4zM619.94 659.7v-3.8h3v3.8zM623.91 659.7v-4.6h3v4.6zM627.88 659.7v-6.3h3v6.3zM635.82 659.7v-12.2h3v12.2zM639.80 659.7v-12.7h3v12.7zM651.71 659.7v-10.4h3v10.4zM655.68 659.7v-10.9h3v10.9zM731.15 659.7v-3.3h3v3.3zM735.12 659.7v-6.3h3v6.3zM739.09 659.7v-8.4h3v8.4zM743.07 659.7v-9.1h3v9.1zM758.95 659.7v-7.4h3v7.4zM770.87 659.7v-9.6h3v9.6zM774.84 659.7v-11.4h3v11.4zM778.81 659.7v-12.2h3v12.2zM790.73 659.7v-10.9h3v10.9zM794.70 659.7v-12.2h3v12.2zM834.42 659.7v-1.3h3v1.3zM838.39 659.7v-4.6h3v4.6zM842.36 659.7v-10.2h3v10.2zM850.31 659.7v-14.0h3v14.0zM854.28 659.7v-16.5h3v16.5zM961.52 659.7v-1.3h3v1.3zM965.49 659.7v-3.6h3v3.6zM969.46 659.7v-3.7h3v3.7zM1025.07 659.7v-1.3h3v1.3zM1033.01 659.7v-1.0h3v1.0zM1036.99 659.7v-2.5h3v2.5zM1040.96 659.7v-3.8h3v3.8zM1044.93 659.7v-5.6h3v5.6zM1052.87 659.7v-5.6h3v5.6zM1056.85 659.7v-6.6h3v6.6zM1068.76 659.7v-5.8h3v5.8zM1072.73 659.7v-6.1h3v6.1zM1076.70 659.7v-6.6h3v6.6zM1080.68 659.7v-9.6h3v9.6zM1084.65 659.7v-14.5h3v14.5zM1088.62 659.7v-22.1h3v22.1zM1092.59 659.7v-25.4h3v25.4zM1096.56 659.7v-28.7h3v28.7zM1100.54 659.7v-32.5h3v32.5zM1108.48 659.7v-32.5h3v32.5zM1112.45 659.7v-43.2h3v43.2zM1116.42 659.7v-44.4h3v44.4z" fill="#26a69a"/>
<path d="M32.10 659.7v-0.5h3v0.5zM40.04 659.7v-0.5h3v0.5zM44.01 659.7v-0.4h3v0.4zM51.95 659.7v-0.4h3v0.4zM55.93 659.7v-0.3h3v0.3zM159.20 659.7v-24.6h3v24.6zM163.17 659.7v-22.3h3v22.3zM179.06 659.7v-27.4h3v27.4zM183.03 659.7v-22.9h3v22.9zM187.00 659.7v-17.8h3v17.8zM190.97 659.7v-15.2h3v15.2zM194.94 659.7v-13.7h3v13.7zM218.77 659.7v-42.7h3v42.7zM222.75 659.7v-30.5h3v30.5zM226.72 659.7v-25.4h3v25.4zM230.69 659.7v-24.6h3v24.6zM234.66 659.7v-20.8h3v20.8zM238.63 659.7v-4.6h3v4.6zM401.48 659.7v-28.7h3v28.7zM405.45 659.7v-23.6h3v23.6zM409.43 659.7v-20.3h3v20.3zM413.40 659.7v-16.5h3v16.5zM417.37 659.7v-10.7h3v10.7zM421.34 659.7v-5.6h3v5.6zM425.31 659.7v-0.8h3v0.8zM520.64 659.7v-6.9h3v6.9zM532.55 659.7v-6.1h3v6.1zM536.53 659.7v-3.8h3v3.8zM540.50 659.7v-2.5h3v2.5zM572.27 659.7v-3.0h3v3.0zM588.16 659.7v-7.6h3v7.6zM592.13 659.7v-3.3h3v3.3zM631.85 659.7v-5.1h3v5.1zM643.77 659.7v-10.9h3v10.9zM647.74 659.7v-9.6h3v9.6zM659.66 659.7v-10.2h3v10.2zM663.63 659.7v-6.9h3v6.9zM667.60 659.7v-3.8h3v3.8zM747.04 659.7v-8.4h3v8.4zM751.01 659.7v-7.6h3v7.6zM754.98 659.7v-7.1h3v7.1zM762.92 659.7v-6.9h3v6.9zM766.90 659.7v-6.7h3v6.7zM782.78 659.7v-10.9h3v10.9zM786.76 659.7v-9.6h3v9.6zM798.67 659.7v-10.2h3v10.2zM802.64 659.7v-7.6h3v7.6zM806.62 659.7v-5.1h3v5.1zM810.59 659.7v-3.8h3v3.8zM814.56 659.7v-2.5h3v2.5zM818.53 659.7v-0.5h3v0.5zM846.33 659.7v-9.6h3v9.6zM858.25 659.7v-16.0h3v16.0zM862.22 659.7v-10.7h3v10.7zM866.19 659.7v-5.8h3v5.8zM870.17 659.7v-2.0h3v2.0zM874.14 659.7v-0.8h3v0.8zM973.44 659.7v-1.3h3v1.3zM1029.04 659.7v-0.5h3v0.5zM1048.90 659.7v-4.6h3v4.6zM1060.82 659.7v-5.8h3v5.8zM1064.79 659.7v-4.6h3v4.6zM1104.51 659.7v-31.7h3v31.7zM1120.40 659.7v-43.2h3v43.2zM1124.37 659.7v-40.1h3v40.1zM1128.34 659.7v-37.6h3v37.6z" fill="#b2dfdb"/>
<path d="M59.90 659.7v1.3h3v-1.3zM63.87 659.7v1.4h3v-1.4zM71.81 659.7v0.6h3v-0.6zM83.73 659.7v1.0h3v-1.0zM91.67 659.7v1.0h3v-1.0zM95.65 659.7v1.1h3v-1.1zM242.61 659.7v2.5h3v-2.5zM246.58 659.7v7.6h3v-7.6zM250.55 659.7v14.0h3v-14.0zM254.52 659.7v16.5h3v-16.5zM258.49 659.7v19.0h3v-19.0zM262.47 659.7v20.3h3v-20.3zM274.38 659.7v24.1h3v-24.1zM278.35 659.7v29.7h3v-29.7zM282.32 659.7v31.7h3v-31.7zM286.30 659.7v33.8h3v-33.8zM290.27 659.7v35.5h3v-35.5zM306.16 659.7v30.0h3v-30.0zM310.13 659.7v30.5h3v-30.5zM318.07 659.7v29.7h3v-29.7zM322.04 659.7v30.0h3v-30.0zM353.82 659.7v2.5h3v-2.5zM361.76 659.7v5.1h3v-5.1zM429.29 659.7v5.6h3v-5.6zM433.26 659.7v9.4h3v-9.4zM437.23 659.7v11.9h3v-11.9zM441.20 659.7v13.5h3v-13.5zM449.14 659.7v15.2h3v-15.2zM453.12 659.7v20.8h3v-20.8zM457.09 659.7v31.7h3v-31.7zM461.06 659.7v35.0h3v-35.0zM465.03 659.7v40.1h3v-40.1zM469.00 659.7v45.7h3v-45.7zM472.98 659.7v48.8h3v-48.8zM544.47 659.7v7.1h3v-7.1zM548.44 659.7v11.4h3v-11.4zM552.41 659.7v16.5h3v-16.5zM556.39 659.7v18.5h3v-18.5zM560.36 659.7v20.8h3v-20.8zM596.11 659.7v4.6h3v-4.6zM600.08 659.7v12.2h3v-12.2zM671.57 659.7v2.0h3v-2.0zM675.54 659.7v7.1h3v-7.1zM679.51 659.7v10.2h3v-10.2zM683.49 659.7v12.2h3v-12.2zM691.43 659.7v14.0h3v-14.0zM707.32 659.7v10.9h3v-10.9zM711.29 659.7v12.7h3v-12.7zM715.26 659.7v16.0h3v-16.0zM822.50 659.7v1.8h3v-1.8zM826.48 659.7v2.5h3v-2.5zM830.45 659.7v4.1h3v-4.1zM878.11 659.7v1.3h3v-1.3zM882.08 659.7v3.3h3v-3.3zM886.05 659.7v4.1h3v-4.1zM894.00 659.7v7.1h3v-7.1zM897.97 659.7v8.1h3v-8.1zM901.94 659.7v8.4h3v-8.4zM905.91 659.7v8.9h3v-8.9zM909.89 659.7v9.4h3v-9.4zM913.86 659.7v9.9h3v-9.9zM917.83 659.7v10.9h3v-10.9zM921.80 659.7v14.0h3v-14.0zM925.77 659.7v14.5h3v-14.5zM945.63 659.7v10.2h3v-10.2zM977.41 659.7v1.3h3v-1.3zM981.38 659.7v2.5h3v-2.5zM985.35 659.7v3.0h3v-3.0zM993.30 659.7v1.3h3v-1.3zM997.27 659.7v1.4h3v-1.4zM1001.24 659.7v1.8h3v-1.8zM1005.21 659.7v2.5h3v-2.5zM1009.18 659.7v4.6h3v-4.6zM1013.15 659.7v6.9h3v-6.9z" fill="#ff5252"/>
<path d="M0.32 659.7v2.5h3v-2.5zM4.29 659.7v2.0h3v-2.0zM8.26 659.7v1.5h3v-1.5zM12.24 659.7v1.0h3v-1.0zM16.21 659.7v0.8h3v-0.8zM20.18 659.7v0.5h3v-0.5zM67.84 659.7v0.5h3v-0.5zM75.79 659.7v0.5h3v-0.5zM79.76 659.7v0.4h3v-0.4zM87.70 659.7v0.5h3v-0.5zM99.62 659.7v0.8h3v-0.8zM266.44 659.7v19.6h3v-19.6zM270.41 659.7v17.8h3v-17.8zM294.24 659.7v33.5h3v-33.5zM298.21 659.7v30.5h3v-30.5zM302.18 659.7v29.2h3v-29.2zM314.10 659.7v29.2h3v-29.2zM326.02 659.7v27.4h3v-27.4zM329.99 659.7v19.0h3v-19.0zM333.96 659.7v10.7h3v-10.7zM337.93 659.7v3.8h3v-3.8zM357.79 659.7v1.0h3v-1.0zM365.73 659.7v3.8h3v-3.8zM445.17 659.7v12.7h3v-12.7zM476.95 659.7v46.2h3v-46.2zM480.92 659.7v42.4h3v-42.4zM484.89 659.7v38.1h3v-38.1zM488.86 659.7v32.5h3v-32.5zM492.84 659.7v27.9h3v-27.9zM496.81 659.7v20.8h3v-20.8zM500.78 659.7v13.2h3v-13.2zM504.75 659.7v3.0h3v-3.0zM564.33 659.7v19.0h3v-19.0zM604.05 659.7v11.9h3v-11.9zM608.02 659.7v8.9h3v-8.9zM611.99 659.7v5.8h3v-5.8zM615.96 659.7v0.8h3v-0.8zM687.46 659.7v11.9h3v-11.9zM695.40 659.7v12.7h3v-12.7zM699.37 659.7v10.2h3v-10.2zM703.35 659.7v7.1h3v-7.1zM719.23 659.7v9.6h3v-9.6zM723.21 659.7v7.6h3v-7.6zM727.18 659.7v3.3h3v-3.3zM890.03 659.7v1.3h3v-1.3zM929.74 659.7v13.2h3v-13.2zM933.72 659.7v11.4h3v-11.4zM937.69 659.7v8.9h3v-8.9zM941.66 659.7v8.1h3v-8.1zM949.60 659.7v7.6h3v-7.6zM953.58 659.7v5.8h3v-5.8zM957.55 659.7v2.5h3v-2.5zM989.32 659.7v0.8h3v-0.8zM1017.13 659.7v3.8h3v-3.8zM1021.10 659.7v0.8h3v-0.8z" fill="#ffcdd2"/>
<text x="1470.5" y="64.1" font-size="13.2" fill="#131722" stroke="#131722" stroke-width="0.22" text-anchor="start" font-weight="400"  textLength="42.2" lengthAdjust="spacingAndGlyphs">4.1000</text>
<text x="1470.5" y="104.0" font-size="13.2" fill="#131722" stroke="#131722" stroke-width="0.22" text-anchor="start" font-weight="400"  textLength="42.2" lengthAdjust="spacingAndGlyphs">3.7000</text>
<text x="1470.5" y="149.6" font-size="13.2" fill="#131722" stroke="#131722" stroke-width="0.22" text-anchor="start" font-weight="400"  textLength="42.2" lengthAdjust="spacingAndGlyphs">3.3000</text>
<text x="1470.5" y="244.1" font-size="13.2" fill="#131722" stroke="#131722" stroke-width="0.22" text-anchor="start" font-weight="400"  textLength="42.2" lengthAdjust="spacingAndGlyphs">2.6000</text>
<text x="1470.5" y="276.1" font-size="13.2" fill="#131722" stroke="#131722" stroke-width="0.22" text-anchor="start" font-weight="400"  textLength="42.2" lengthAdjust="spacingAndGlyphs">2.4000</text>
<text x="1470.5" y="309.90000000000003" font-size="13.2" fill="#131722" stroke="#131722" stroke-width="0.22" text-anchor="start" font-weight="400"  textLength="42.2" lengthAdjust="spacingAndGlyphs">2.2000</text>
<text x="1470.5" y="348.1" font-size="13.2" fill="#131722" stroke="#131722" stroke-width="0.22" text-anchor="start" font-weight="400"  textLength="42.2" lengthAdjust="spacingAndGlyphs">2.0000</text>
<text x="1470.5" y="389.1" font-size="13.2" fill="#131722" stroke="#131722" stroke-width="0.22" text-anchor="start" font-weight="400"  textLength="42.2" lengthAdjust="spacingAndGlyphs">1.8000</text>
<text x="1470.5" y="424.1" font-size="13.2" fill="#131722" stroke="#131722" stroke-width="0.22" text-anchor="start" font-weight="400"  textLength="42.2" lengthAdjust="spacingAndGlyphs">1.6500</text>
<text x="1470.5" y="459.1" font-size="13.2" fill="#131722" stroke="#131722" stroke-width="0.22" text-anchor="start" font-weight="400"  textLength="42.2" lengthAdjust="spacingAndGlyphs">1.5100</text>
<text x="1470.5" y="581.1" font-size="13.2" fill="#131722" stroke="#131722" stroke-width="0.22" text-anchor="start" font-weight="400"  textLength="34.6" lengthAdjust="spacingAndGlyphs">40.00</text>
<text x="1470.5" y="621.1" font-size="13.2" fill="#131722" stroke="#131722" stroke-width="0.22" text-anchor="start" font-weight="400"  textLength="42.2" lengthAdjust="spacingAndGlyphs">0.1000</text>
<text x="1470.5" y="664.9" font-size="13.2" fill="#131722" stroke="#131722" stroke-width="0.22" text-anchor="start" font-weight="400"  textLength="42.2" lengthAdjust="spacingAndGlyphs">0.0000</text>
<text x="1470.5" y="708.1" font-size="13.2" fill="#131722" stroke="#131722" stroke-width="0.22" text-anchor="start" font-weight="400"  textLength="49.9" lengthAdjust="spacingAndGlyphs">&#8722;0.1000</text>
<rect x="1402" y="108.5" width="59.2" height="17.2" rx="2" fill="#089981"/>
<text x="1406.5" y="121.2" font-size="13" fill="#fff" stroke="#fff" stroke-width="0.22" text-anchor="start" font-weight="400"  textLength="49.5" lengthAdjust="spacingAndGlyphs">XRPUSD</text>
<rect x="1462" y="108.5" width="68.4" height="31.6" rx="2" fill="#089981"/>
<text x="1470.5" y="121" font-size="13.2" fill="#fff" stroke="#fff" stroke-width="0.22" text-anchor="start" font-weight="400"  textLength="42.2" lengthAdjust="spacingAndGlyphs">3.5414</text>
<text x="1470.5" y="136.2" font-size="13.2" fill="#d4efea" stroke="#d4efea" stroke-width="0.22" text-anchor="start" font-weight="400"  textLength="53.7" lengthAdjust="spacingAndGlyphs">12:15:40</text>
<rect x="1462" y="143.7" width="56.7" height="17.3" rx="2" fill="#e91e63"/>
<text x="1470.5" y="156.45" font-size="13.2" fill="#fff" stroke="#fff" stroke-width="0.22" text-anchor="start" font-weight="400"  textLength="42.2" lengthAdjust="spacingAndGlyphs">3.2392</text>
<rect x="1462" y="189.4" width="56.7" height="17.3" rx="2" fill="#2962ff"/>
<text x="1470.5" y="202.15" font-size="13.2" fill="#fff" stroke="#fff" stroke-width="0.22" text-anchor="start" font-weight="400"  textLength="42.2" lengthAdjust="spacingAndGlyphs">2.8890</text>
<rect x="1462" y="291.4" width="56.7" height="17.4" rx="2" fill="#ff9800"/>
<text x="1470.5" y="304.2" font-size="13.2" fill="#131722" stroke="#131722" stroke-width="0.22" text-anchor="start" font-weight="400"  textLength="42.2" lengthAdjust="spacingAndGlyphs">2.2276</text>
<rect x="1461.6" y="477" width="61" height="17.8" rx="2" fill="#2962ff"/>
<text x="1470.5" y="490.0" font-size="13.2" fill="#fff" stroke="#fff" stroke-width="0.22" text-anchor="start" font-weight="400"  textLength="46.5" lengthAdjust="spacingAndGlyphs">158.5&#8201;M</text>
<defs><clipPath id="vc"><rect x="1461" y="494.8" width="75" height="11.4"/></clipPath></defs>
<g clip-path="url(#vc)">
<rect x="1461.6" y="494.8" width="61" height="17.8" rx="2" fill="#26a69a"/>
<text x="1470.5" y="507.8" font-size="13.2" fill="#fff" stroke="#fff" stroke-width="0.22" text-anchor="start" font-weight="400"  textLength="46.5" lengthAdjust="spacingAndGlyphs">55.54&#8201;M</text>
</g>
<rect x="1462" y="517.4" width="48.5" height="17.5" rx="2" fill="#7e57c2"/>
<text x="1470.5" y="530.25" font-size="13.2" fill="#fff" stroke="#fff" stroke-width="0.22" text-anchor="start" font-weight="400"  textLength="34.6" lengthAdjust="spacingAndGlyphs">85.45</text>
<rect x="1462" y="534.9" width="48.5" height="17.6" rx="2" fill="#fdd835"/>
<text x="1470.5" y="547.8" font-size="13.2" fill="#131722" stroke="#131722" stroke-width="0.22" text-anchor="start" font-weight="400"  textLength="34.6" lengthAdjust="spacingAndGlyphs">79.10</text>
<rect x="1462" y="613" width="56.7" height="17.6" rx="2" fill="#b2dfdb"/>
<text x="1470.5" y="625.9" font-size="13.2" fill="#131722" stroke="#131722" stroke-width="0.22" text-anchor="start" font-weight="400"  textLength="42.2" lengthAdjust="spacingAndGlyphs">0.0874</text>
<rect x="1465.5" y="6" width="65" height="26" rx="4" fill="#fff" stroke="#eceef2" stroke-width="1"/>
<text x="1473.5" y="22.9" font-size="13.2" fill="#131722" stroke="#131722" stroke-width="0.22" text-anchor="start" font-weight="400"  textLength="27.0" lengthAdjust="spacingAndGlyphs">USD</text>
<text x="89.2" y="739" font-size="13.2" fill="#131722" stroke="#131722" stroke-width="0.22" text-anchor="middle" font-weight="400" >Nov</text>
<text x="208.4" y="739" font-size="13.2" fill="#131722" stroke="#131722" stroke-width="0.22" text-anchor="middle" font-weight="400" >Dec</text>
<text x="331.5" y="739" font-size="13.2" fill="#131722" stroke="#131722" stroke-width="0.22" text-anchor="middle" font-weight="700" letter-spacing="1.2" dx="0.6">2025</text>
<text x="454.6" y="739" font-size="13.2" fill="#131722" stroke="#131722" stroke-width="0.22" text-anchor="middle" font-weight="400" >Feb</text>
<text x="565.8" y="739" font-size="13.2" fill="#131722" stroke="#131722" stroke-width="0.22" text-anchor="middle" font-weight="400" >Mar</text>
<text x="689.0" y="739" font-size="13.2" fill="#131722" stroke="#131722" stroke-width="0.22" text-anchor="middle" font-weight="400" >Apr</text>
<text x="808.1" y="739" font-size="13.2" fill="#131722" stroke="#131722" stroke-width="0.22" text-anchor="middle" font-weight="400" >May</text>
<text x="931.2" y="739" font-size="13.2" fill="#131722" stroke="#131722" stroke-width="0.22" text-anchor="middle" font-weight="400" >Jun</text>
<text x="1050.4" y="739" font-size="13.2" fill="#131722" stroke="#131722" stroke-width="0.22" text-anchor="middle" font-weight="400" >Jul</text>
<text x="1173.5" y="739" font-size="13.2" fill="#131722" stroke="#131722" stroke-width="0.22" text-anchor="middle" font-weight="400" >Aug</text>
<text x="1296.7" y="739" font-size="13.2" fill="#131722" stroke="#131722" stroke-width="0.22" text-anchor="middle" font-weight="400" >Sep</text>
<text x="1415.8" y="739" font-size="13.2" fill="#131722" stroke="#131722" stroke-width="0.22" text-anchor="middle" font-weight="400" >Oct</text>
<text x="8" y="22" font-size="13.2" fill="#131722" stroke="#131722" stroke-width="0.22" text-anchor="start" font-weight="400"  textLength="195.0" lengthAdjust="spacingAndGlyphs">XRP / U.S. Dollar &#183; 1D &#183; COINBASE</text>
<text x="211.3" y="22" font-size="13.2" fill="#131722" stroke="#131722" stroke-width="0.22" text-anchor="start" font-weight="400"  textLength="51.2" lengthAdjust="spacingAndGlyphs">O3.4560</text>
<text x="270.3" y="22" font-size="13.2" fill="#131722" stroke="#131722" stroke-width="0.22" text-anchor="start" font-weight="400"  textLength="48.1" lengthAdjust="spacingAndGlyphs">H3.5815</text>
<text x="326.6" y="22" font-size="13.2" fill="#131722" stroke="#131722" stroke-width="0.22" text-anchor="start" font-weight="400"  textLength="45.7" lengthAdjust="spacingAndGlyphs">L3.4100</text>
<text x="380.5" y="22" font-size="13.2" fill="#131722" stroke="#131722" stroke-width="0.22" text-anchor="start" font-weight="400"  textLength="47.5" lengthAdjust="spacingAndGlyphs">C3.5414</text>
<text x="436" y="22" font-size="13.2" fill="#131722" stroke="#131722" stroke-width="0.22" text-anchor="start" font-weight="400"  textLength="107.8" lengthAdjust="spacingAndGlyphs">+0.0859 (+2.49%)</text>
<text x="8" y="40" font-size="13.2" fill="#131722" stroke="#131722" stroke-width="0.22" text-anchor="start" font-weight="400"  textLength="79.1" lengthAdjust="spacingAndGlyphs">Vol &#183; XRP (14)</text>
<text x="95.3" y="40" font-size="13.2" fill="#26a69a" stroke="#26a69a" stroke-width="0.22" text-anchor="start" font-weight="400"  textLength="45.3" lengthAdjust="spacingAndGlyphs">55.54&#8201;M</text>
<text x="148.8" y="40" font-size="13.2" fill="#2962ff" stroke="#2962ff" stroke-width="0.22" text-anchor="start" font-weight="400"  textLength="44.2" lengthAdjust="spacingAndGlyphs">158.5&#8201;M</text>
<text x="8" y="57" font-size="13.2" fill="#131722" stroke="#131722" stroke-width="0.22" text-anchor="start" font-weight="400"  textLength="89.7" lengthAdjust="spacingAndGlyphs">EMA (21, close)</text>
<text x="106.3" y="57" font-size="13.2" fill="#2962ff" stroke="#2962ff" stroke-width="0.22" text-anchor="start" font-weight="400"  textLength="41.0" lengthAdjust="spacingAndGlyphs">2.8890</text>
<text x="8" y="75" font-size="13.2" fill="#131722" stroke="#131722" stroke-width="0.22" text-anchor="start" font-weight="400"  textLength="99.4" lengthAdjust="spacingAndGlyphs">EMA (200, close)</text>
<text x="116" y="75" font-size="13.2" fill="#ff9800" stroke="#ff9800" stroke-width="0.22" text-anchor="start" font-weight="400"  textLength="39.5" lengthAdjust="spacingAndGlyphs">2.2276</text>
<text x="8" y="93" font-size="13.2" fill="#131722" stroke="#131722" stroke-width="0.22" text-anchor="start" font-weight="400"  textLength="84.2" lengthAdjust="spacingAndGlyphs">EMA (9, close)</text>
<text x="100.8" y="93" font-size="13.2" fill="#e91e63" stroke="#e91e63" stroke-width="0.22" text-anchor="start" font-weight="400"  textLength="40.6" lengthAdjust="spacingAndGlyphs">3.2392</text>
<text x="8.4" y="528" font-size="13.2" fill="#131722" stroke="#131722" stroke-width="0.22" text-anchor="start" font-weight="400"  textLength="82.3" lengthAdjust="spacingAndGlyphs">RSI (14, close)</text>
<text x="99" y="528" font-size="13.2" fill="#7e57c2" stroke="#7e57c2" stroke-width="0.22" text-anchor="start" font-weight="400"  textLength="33.0" lengthAdjust="spacingAndGlyphs">85.45</text>
<text x="140.2" y="528" font-size="13.2" fill="#fdd835" stroke="#fdd835" stroke-width="0.22" text-anchor="start" font-weight="400"  textLength="29.4" lengthAdjust="spacingAndGlyphs">79.10</text>
<text x="8.4" y="617" font-size="13.2" fill="#131722" stroke="#131722" stroke-width="0.22" text-anchor="start" font-weight="400"  textLength="121.9" lengthAdjust="spacingAndGlyphs">MACD (12, 26, close)</text>
<text x="138.6" y="617" font-size="13.2" fill="#b2dfdb" stroke="#b2dfdb" stroke-width="0.22" text-anchor="start" font-weight="400"  textLength="39.7" lengthAdjust="spacingAndGlyphs">0.0874</text>
</svg>
</body></html>
